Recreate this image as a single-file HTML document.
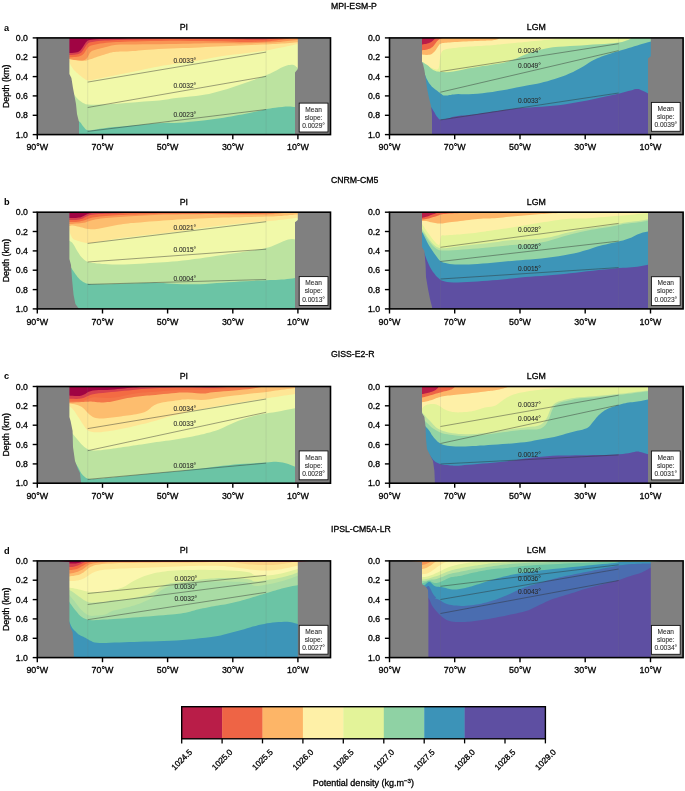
<!DOCTYPE html>
<html lang="en"><head><meta charset="utf-8"><title>Potential density sections</title>
<style>
html,body{margin:0;padding:0;background:#fff;}
body{width:685px;height:791px;overflow:hidden;}
svg{display:block;font-family:"Liberation Sans", sans-serif;}
text{fill:#000;}
.b{stroke:#000;stroke-width:0.3px;}
.g{fill:#2b2b2b;stroke:#2b2b2b;stroke-width:0.08px;}
</style></head><body>
<svg width="685" height="791" viewBox="0 0 685 791">
<rect width="685" height="791" fill="#fff"/>
<text x="331.0" y="8.6" font-size="8.7" class="b">MPI-ESM-P</text>
<text x="4" y="30.7" font-size="9.2" font-weight="bold">a</text>
<g transform="translate(37.3,37.9)">
<clipPath id="ca1"><rect x="0" y="0" width="293.2" height="96.7"/></clipPath>
<g clip-path="url(#ca1)">
<rect x="0" y="0" width="293.2" height="96.7" fill="#6bc4a5"/>
<polygon fill="#bce3a0" points="-3,-2 -3,80.1 31.7,80.1 32.3,80.2 33.6,80.5 35.5,81 38,81.6 40.1,82.5 42,83.7 43.6,85.2 44.8,87 46,88.6 47.1,89.9 48,91 49,91.9 50.5,92.4 52.6,92.5 55.3,92.2 58.7,91.5 62.6,90.9 67,90.3 72,89.7 77.5,89.1 84.2,88.5 92.2,87.8 101.5,87 112,86 120.4,85.4 126.8,85 131.1,84.9 133.3,85.1 136.6,85.1 141,84.9 146.4,84.5 152.9,83.9 158.7,83.4 163.7,82.9 168.1,82.4 171.8,81.9 175.4,81.4 179.1,80.9 182.8,80.4 186.4,79.8 190.1,79.2 193.8,78.6 197.4,77.9 201.1,77.2 204.8,76.5 208.4,75.8 212,75.1 215.6,74.3 218.8,73.7 221.5,73.1 223.8,72.5 225.6,72.1 227.5,71.6 229.3,71.2 231.1,70.9 233,70.5 235.3,70.2 238,69.8 241.2,69.4 244.9,69 248.1,68.7 250.8,68.6 253,68.7 254.8,68.8 256.4,69 257.8,69 259,69.1 260.1,69.1 260.8,69.1 261.4,69.1 261.6,69.1 296.2,69.1 296.2,-2"/>
<polygon fill="#f1f9a9" points="-3,-2 -3,47.3 31.7,47.3 31.8,47.5 31.9,47.8 32.1,48.2 32.3,48.8 32.9,49.9 33.9,51.6 35.2,53.8 36.8,56.5 38.4,58.8 40,60.7 41.5,62.2 42.9,63.2 44.3,64.2 45.7,65 47.1,65.7 48.4,66.3 50.7,66.6 54,66.8 58.3,66.9 63.7,66.7 69.1,66.5 74.5,66.2 80,65.8 85.5,65.4 91.7,64.9 98.7,64.3 106.5,63.7 115,63.1 121.9,62.5 127.3,61.9 131.1,61.4 133.3,60.9 136.6,60.4 141,59.8 146.4,59.3 152.9,58.7 158.7,58.1 163.7,57.4 168.1,56.7 171.8,56 175.4,55.2 179.1,54.2 182.8,53.2 186.4,52.2 190.1,51 193.8,49.9 197.4,48.6 201.1,47.4 204.8,46.1 208.4,44.9 212,43.6 215.6,42.3 218.8,41.2 221.5,40.2 223.8,39.3 225.6,38.6 227.5,37.8 229.3,37.1 231.1,36.3 233,35.6 234.9,34.7 236.9,33.7 239,32.6 241.2,31.3 243.2,30.2 245,29.3 246.7,28.6 248.1,28 249.6,27.5 251.1,27.2 252.5,27 254,26.9 255.3,26.9 256.4,27.2 257.5,27.7 258.4,28.4 259.2,29 259.9,29.6 260.5,30 260.9,30.4 261.3,30.7 261.5,30.9 261.6,31 296.2,31 296.2,-2"/>
<polygon fill="#fee695" points="-3,-2 -3,23.7 31.7,23.7 31.9,24.1 32.3,24.9 32.8,26.1 33.6,27.7 34.5,29.2 35.5,30.6 36.6,32 37.8,33.2 39.1,34.5 40.5,35.7 42,37 43.5,38.2 44.9,39.4 46.3,40.4 47.6,41.2 48.8,42 50.3,42.4 52.1,42.5 54.1,42.4 56.3,41.9 59.3,41.2 62.9,40.5 67.2,39.6 72.2,38.6 77.2,37.6 82.2,36.6 87.2,35.6 92.2,34.6 97.2,33.6 102.2,32.5 107.2,31.4 112.2,30.3 117,29.4 121.6,28.5 126.1,27.7 130.3,27 134.9,26.4 139.9,25.6 145.3,24.9 151,24.2 156.8,23.3 162.5,22.3 168.2,21.3 173.9,20.2 179.7,19.1 185.4,18.2 191.1,17.4 196.9,16.7 202.6,16 208.3,15.3 214.1,14.6 219.8,13.8 224.8,13.1 229.1,12.5 232.7,11.8 235.5,11.3 238.4,10.7 241.3,10.1 244.1,9.6 247,9 249.8,8.4 252.5,7.8 255.2,7.3 257.7,6.7 259.7,6.3 261,6 261.6,5.8 296.2,5.8 296.2,-2"/>
<polygon fill="#fdbd6e" points="-3,-2 -3,21.1 31.7,21.1 32.2,21.2 33.2,21.4 34.7,21.6 36.7,22 38.7,22.3 40.7,22.5 42.7,22.7 44.7,22.9 46.5,22.9 48,22.8 49.4,22.6 50.5,22.2 51.6,21.8 52.9,21.4 54.2,21 55.6,20.5 57.2,19.9 58.9,19.3 60.7,18.7 62.7,18.1 64.7,17.4 66.7,16.8 68.7,16.1 70.7,15.5 72.6,14.9 74.3,14.5 76,14.2 77.5,14 79.1,13.9 80.8,13.8 82.7,13.7 84.7,13.7 87,13.7 89.5,13.6 92.2,13.4 95.2,13.2 98.2,13 101.2,12.7 104.2,12.4 107.2,12.2 111,11.8 115.6,11.5 121.1,11.2 127.3,10.9 133.4,10.6 139.4,10.4 145.3,10.1 151,10 156.8,9.8 162.5,9.5 168.2,9.2 173.9,8.9 179.7,8.6 185.4,8.3 191.1,8 196.9,7.8 202.6,7.5 208.3,7.3 214.1,7.1 219.8,6.9 224.8,6.7 229.1,6.5 232.7,6.3 235.5,6.2 238.4,6.1 241.3,5.9 244.1,5.7 247,5.5 249.8,5.3 252.5,5 255.2,4.8 257.7,4.6 259.7,4.4 261,4.3 261.6,4.2 296.2,4.2 296.2,-2"/>
<polygon fill="#f99554" points="-3,-2 -3,21.1 31.7,21.1 32.2,21.2 33.2,21.4 34.7,21.6 36.7,22 38.7,22.2 40.7,22.4 42.7,22.5 44.7,22.5 46.4,22.3 47.8,21.9 48.8,21.2 49.6,20.4 50.3,19.4 50.9,18.4 51.5,17.2 52,16 52.6,14.9 53.5,14 54.6,13.2 55.8,12.6 57.3,12 58.9,11.5 60.7,11 62.7,10.5 64.7,10 66.7,9.5 68.7,9 70.7,8.5 72.6,8 74.3,7.6 76,7.3 77.5,7.1 79.8,6.9 83.1,6.7 87.2,6.6 92.2,6.6 98.3,6.5 105.4,6.4 113.6,6.4 122.8,6.3 131.2,6.2 138.7,6 145.3,5.9 151,5.8 156.8,5.7 162.5,5.5 168.2,5.4 173.9,5.3 179.7,5.3 185.4,5.3 191.1,5.3 196.9,5.4 202.6,5.5 208.3,5.4 214.1,5.3 219.8,5 224.9,4.8 229.5,4.7 233.5,4.5 237,4.4 240.1,4.2 243,4 245.6,3.7 247.9,3.4 250.2,3.1 252.7,2.8 255.2,2.5 257.7,2.3 259.7,2.1 261,2 261.6,1.9 296.2,1.9 296.2,-2"/>
<polygon fill="#f36b43" points="-3,-2 -3,19.5 31.7,19.5 32.2,19.5 33.2,19.4 34.7,19.4 36.7,19.2 38.5,19.1 40.1,18.9 41.6,18.6 42.8,18.2 44,17.7 45,17.1 45.8,16.4 46.6,15.5 47.3,14.5 48.1,13.4 48.8,12.2 49.6,11 50.4,9.9 51.3,9 52.2,8.4 53.2,7.9 54.8,7.3 56.9,6.8 59.6,6.3 62.8,5.7 66,5.3 69.1,4.9 72.2,4.6 75.2,4.4 78.7,4.2 82.7,4 87.2,3.9 92.2,3.7 98.3,3.6 105.4,3.4 113.6,3.2 122.8,3 132.6,2.9 143,2.9 153.9,3 165.3,3.1 175.4,3.3 184,3.4 191.1,3.7 196.9,3.9 202.6,4 208.3,4.1 214.1,4.1 219.8,3.9 224.8,3.8 229.1,3.5 232.7,3.3 235.5,2.9 238.4,2.5 241.3,2.2 244.1,1.8 247,1.4 249.4,1 251.4,0.6 253,0.3 254.2,-0.1 255,-0.3 255.6,-0.5 255.9,-0.6 296.2,-0.6 296.2,-2"/>
<polygon fill="#d6404e" points="-3,-2 -3,17.1 31.7,17.1 32.2,17.1 33.2,17 34.7,17 36.7,16.9 38.5,16.7 40,16.4 41.2,16.1 42.2,15.7 43.1,15.2 44,14.5 44.8,13.6 45.6,12.6 46.3,11.5 47.1,10.4 47.8,9.2 48.6,8 49.3,6.9 50.1,6 50.8,5.4 51.6,4.9 53,4.4 55,4 57.6,3.6 60.8,3.2 64.1,2.9 67.5,2.7 71,2.5 74.5,2.3 80.6,2.1 89.5,1.9 101.1,1.7 115.3,1.4 129.6,1.2 143.9,1 158.2,1 172.5,1 184.4,1 193.9,1.1 200.9,1.3 205.5,1.4 209.9,1.6 214.2,1.6 218.4,1.6 222.4,1.6 225.9,1.5 229.1,1.4 231.8,1.2 234.1,1 236.3,0.8 238.3,0.6 240.1,0.3 241.8,-0.1 243.1,-0.3 244,-0.5 244.4,-0.6 296.2,-0.6 296.2,-2"/>
<polygon fill="#a00443" points="-3,-2 -3,15.1 31.7,15.1 32.2,15.1 33.2,15 34.7,15 36.7,14.9 38.4,14.7 39.8,14.4 40.8,14.1 41.6,13.7 42.3,13.2 43.1,12.5 43.8,11.6 44.6,10.6 45.3,9.5 46.1,8.4 46.8,7.2 47.6,6 48.3,4.9 49,4 49.7,3.4 50.3,2.9 51.3,2.4 52.7,2.1 54.5,1.8 56.5,1.6 59.4,1.4 62.9,1.2 67.2,1.1 72.2,0.9 77.2,0.7 82.2,0.5 87.2,0.3 92.2,-0 96,-0.3 98.5,-0.4 99.7,-0.5 296.2,-0.5 296.2,-2"/>
<polygon fill="#808080" points="-2,-2 32.1,0.1 32.1,36.1 34.1,40.1 35.7,50.1 38.7,66.1 39.7,76.1 41.7,84.1 41.7,98.1 -2,98.7"/>
<polygon fill="#808080" points="295.2,-2 260.5,0.1 260.5,31 257.7,34.5 257.7,98.7 295.2,98.7"/>
<line x1="50.4" y1="0" x2="50.4" y2="96.7" stroke="#777" stroke-width="0.45" stroke-dasharray="0.6,0.4" opacity="0.5"/>
<line x1="228.8" y1="0" x2="228.8" y2="96.7" stroke="#777" stroke-width="0.45" stroke-dasharray="0.6,0.4" opacity="0.5"/>
<line x1="50.4" y1="44.2" x2="228.8" y2="14.2" stroke="#2e2e2e" stroke-width="0.45"/>
<line x1="50.4" y1="69.6" x2="228.8" y2="38.5" stroke="#2e2e2e" stroke-width="0.45"/>
<line x1="50.4" y1="93.5" x2="228.8" y2="71.6" stroke="#2e2e2e" stroke-width="0.45"/>
</g>
<text x="147.5" y="25.3" font-size="6.6" text-anchor="middle" class="g">0.0033°</text>
<text x="147.5" y="50.4" font-size="6.6" text-anchor="middle" class="g">0.0032°</text>
<text x="147.5" y="78.9" font-size="6.6" text-anchor="middle" class="g">0.0023°</text>
<rect x="261.9" y="65.2" width="28.8" height="28.9" fill="#fff" stroke="#111" stroke-width="0.9"/>
<text font-size="6.6" text-anchor="middle" class="g"><tspan x="276.3" y="73.8">Mean</tspan><tspan x="276.3" y="81.8">slope:</tspan><tspan x="276.3" y="90.2">0.0029°</tspan></text>
<rect x="0" y="0" width="293.2" height="96.7" fill="none" stroke="#000" stroke-width="1.6"/>
<line x1="-4.6" y1="0" x2="0" y2="0" stroke="#000" stroke-width="1.4"/>
<text x="-9.4" y="3.2" font-size="8.7" text-anchor="end" class="b">0.0</text>
<line x1="-4.6" y1="19.3" x2="0" y2="19.3" stroke="#000" stroke-width="1.4"/>
<text x="-9.4" y="22.5" font-size="8.7" text-anchor="end" class="b">0.2</text>
<line x1="-4.6" y1="38.7" x2="0" y2="38.7" stroke="#000" stroke-width="1.4"/>
<text x="-9.4" y="41.9" font-size="8.7" text-anchor="end" class="b">0.4</text>
<line x1="-4.6" y1="58" x2="0" y2="58" stroke="#000" stroke-width="1.4"/>
<text x="-9.4" y="61.2" font-size="8.7" text-anchor="end" class="b">0.6</text>
<line x1="-4.6" y1="77.4" x2="0" y2="77.4" stroke="#000" stroke-width="1.4"/>
<text x="-9.4" y="80.6" font-size="8.7" text-anchor="end" class="b">0.8</text>
<line x1="-4.6" y1="96.7" x2="0" y2="96.7" stroke="#000" stroke-width="1.4"/>
<text x="-9.4" y="99.9" font-size="8.7" text-anchor="end" class="b">1.0</text>
<line x1="0" y1="96.7" x2="0" y2="101.3" stroke="#000" stroke-width="1.4"/>
<text x="0" y="112.6" font-size="8.9" text-anchor="middle" class="b">90°W</text>
<line x1="65.2" y1="96.7" x2="65.2" y2="101.3" stroke="#000" stroke-width="1.4"/>
<text x="65.2" y="112.6" font-size="8.9" text-anchor="middle" class="b">70°W</text>
<line x1="130.3" y1="96.7" x2="130.3" y2="101.3" stroke="#000" stroke-width="1.4"/>
<text x="130.3" y="112.6" font-size="8.9" text-anchor="middle" class="b">50°W</text>
<line x1="195.5" y1="96.7" x2="195.5" y2="101.3" stroke="#000" stroke-width="1.4"/>
<text x="195.5" y="112.6" font-size="8.9" text-anchor="middle" class="b">30°W</text>
<line x1="260.6" y1="96.7" x2="260.6" y2="101.3" stroke="#000" stroke-width="1.4"/>
<text x="260.6" y="112.6" font-size="8.9" text-anchor="middle" class="b">10°W</text>
<text x="146.6" y="-7.5" font-size="8.8" text-anchor="middle" class="b">PI</text>
<text transform="translate(-28.3,48.35) rotate(-90)" font-size="8.8" text-anchor="middle" class="b">Depth (km)</text>
</g>
<g transform="translate(389.5,37.9)">
<clipPath id="ca2"><rect x="0" y="0" width="293.6" height="96.7"/></clipPath>
<g clip-path="url(#ca2)">
<rect x="0" y="0" width="293.6" height="96.7" fill="#5e4fa2"/>
<polygon fill="#3d95b8" points="-3,-2 -3,66.1 39.5,66.1 39.8,66.5 40.2,67.2 41,68.3 42,69.8 43,71.4 44,73 45,74.7 46,76.5 46.9,78 47.8,79.2 48.6,80.2 49.4,81 50.3,81.5 51.4,81.7 52.8,81.7 54.2,81.5 56,81.1 58,80.6 60.2,80 62.8,79.2 65.5,78.6 68.5,78.1 71.8,77.7 75.2,77.5 79.1,77.1 83.4,76.6 88,76 93,75.2 98,74.5 103,73.7 108,73 113,72.2 117.8,71.6 122.4,71 126.9,70.5 131.1,70.2 135.7,69.8 140.7,69.5 146.1,69.2 151.8,68.9 157.6,68.4 163.3,67.9 169,67.3 174.7,66.5 180.5,65.7 186.2,64.7 191.9,63.7 197.7,62.6 203.4,61.4 209.1,60.2 214.9,58.9 220.6,57.7 225.6,56.6 229.9,55.6 233.5,54.7 236.3,53.9 238.9,53.2 241.2,52.6 243.2,52 244.9,51.4 246.5,51.1 247.9,51 249.2,51.2 250.4,51.7 251.9,52.3 253.7,53.2 256,54.2 258.5,55.5 260.5,56.5 261.8,57.1 262.4,57.4 296.6,57.4 296.6,-2"/>
<polygon fill="#94d4a4" points="-3,-2 -3,30.1 32.5,30.1 32.6,30.4 32.9,30.9 33.2,31.6 33.8,32.6 34.3,33.9 34.9,35.4 35.6,37.1 36.4,39.1 37.2,41 38.1,42.7 39,44.4 40,45.9 41.1,47.2 42.2,48.5 43.4,49.6 44.6,50.6 45.8,51.5 46.9,52.4 48,53.2 49,54 50,54.7 51,55.5 52,56.2 53,57 54.1,57.5 55.4,57.7 56.8,57.7 58.2,57.5 59.8,57.2 61.2,57 62.8,56.7 64.2,56.5 66.2,56.3 68.8,56.2 71.8,56.3 75.2,56.4 79.1,56.3 83.4,56.1 88,55.8 93,55.3 98,54.7 103,54 108,53.2 113,52.4 117.8,51.5 122.4,50.6 126.9,49.7 131.1,48.8 135,48 138.6,47.3 141.8,46.8 144.7,46.4 147.7,45.8 151,45.1 154.4,44.2 158,43.3 161.6,42.2 165.2,41.1 168.9,39.9 172.6,38.7 176.2,37.3 179.9,35.7 183.6,34 187.2,32.2 190.6,30.4 193.7,28.6 196.5,26.9 199,25.1 201.4,23.6 203.7,22.3 205.8,21.3 207.8,20.4 209.9,19.6 212.1,18.7 214.3,17.9 216.6,17.1 218.9,16.3 221.2,15.6 223.4,14.9 225.7,14.2 228.2,13.5 230.8,12.7 233.5,11.9 236.3,11 239.2,10.2 242.1,9.3 244.9,8.4 247.8,7.6 250.6,6.7 253.3,5.9 256,5.2 258.5,4.4 260.5,3.9 261.8,3.5 262.4,3.3 296.6,3.3 296.6,-2"/>
<polygon fill="#e3f399" points="-3,-2 -3,23.1 32.5,23.1 32.8,23.2 33.2,23.3 34,23.5 35,23.7 36,24.3 37,25.2 38,26.4 39,27.9 40.1,29.2 41.2,30.3 42.4,31.2 43.6,32 44.9,32.6 46.1,33.1 47.2,33.5 48.4,33.7 49.9,33.9 51.8,34.1 54,34.2 56.6,34.4 59.8,34.2 63.6,33.7 68,32.9 73,31.8 78,30.7 83,29.8 88,29 93,28.2 98,27.5 103,26.7 108,25.8 113,25 117.8,23.8 122.4,22.4 126.9,20.7 131.1,18.6 135.7,16.7 140.7,14.9 146.1,13.2 151.8,11.6 157.6,10.4 163.3,9.4 169,8.8 174.7,8.6 180.5,8.2 186.2,7.9 191.9,7.5 197.7,7.1 203.4,6.7 209.1,6.4 214.9,6 220.6,5.7 225.5,5.2 229.5,4.7 232.6,4.1 234.9,3.4 236.9,2.7 238.6,2 240.1,1.3 241.2,0.5 242.1,-0 242.6,-0.4 242.9,-0.6 296.6,-0.6 296.6,-2"/>
<polygon fill="#fef0a7" points="-3,-2 -3,23.6 31.9,23.6 32.3,23.8 32.9,24.1 33.9,24.7 35.2,25.5 36.5,26.3 37.7,27.1 38.9,27.9 40.1,28.8 41.3,29.5 42.4,30.1 43.6,30.6 44.8,31.1 45.8,31.4 46.8,31.5 47.6,31.5 48.4,31.4 49,30.7 49.4,29.4 49.8,27.6 50,25.3 50.2,23 50.5,20.9 50.8,18.7 51.2,16.7 51.7,15 52.4,13.7 53.2,12.8 54.1,12.2 55.1,11.8 56.2,11.4 57.4,11.1 58.7,10.9 60,10.7 61.3,10.5 62.7,10.3 64.2,10.1 65.7,10 67.2,9.8 68.7,9.6 70.2,9.4 72,9.3 74.2,9.1 76.8,8.9 79.6,8.7 82.5,8.5 85.4,8.3 88.3,8.1 91.2,8 94.1,7.8 96.9,7.7 99.6,7.5 102.3,7.3 104.7,7.1 106.8,6.9 108.5,6.7 110,6.6 111.8,6.4 114,6.2 116.6,5.9 119.5,5.7 122.2,5.4 124.8,5.1 127.1,4.9 129.3,4.7 131.8,4.5 134.7,4.2 138,3.8 141.7,3.4 145.2,3.1 148.5,2.8 151.6,2.5 154.5,2.2 157.2,2 159.6,1.8 161.8,1.6 163.7,1.4 165.7,1.2 167.9,1 170.2,0.8 172.7,0.6 174.9,0.4 176.9,0.2 178.6,-0 180.1,-0.3 181.2,-0.5 181.9,-0.6 182.3,-0.6 296.6,-0.6 296.6,-2"/>
<polygon fill="#fdb567" points="-3,-2 -3,16.5 31.9,16.5 32.3,16.6 32.9,16.7 33.9,16.8 35.2,16.9 36.5,17 37.7,17 38.9,16.9 40.1,16.8 41.2,16.5 42.2,16 43.2,15.4 44,14.7 44.9,13.9 45.7,12.9 46.5,11.9 47.2,10.7 47.9,9.6 48.5,8.6 49.2,7.7 49.7,6.9 50.4,6.2 51.2,5.8 52.2,5.4 53.2,5.2 54.3,5.1 55.5,4.9 56.9,4.8 58.4,4.7 60.2,4.6 62.4,4.4 64.9,4.2 67.8,4.1 70.8,3.9 73.7,3.7 76.6,3.6 79.5,3.4 82.5,3.3 85.4,3.2 88.3,3.1 91.2,2.9 93.7,2.8 95.8,2.8 97.4,2.7 98.7,2.7 99.9,2.6 101.1,2.6 102.3,2.5 103.4,2.4 104.5,2.2 105.5,2 106.5,1.8 107.4,1.6 108.2,1.3 108.9,0.9 109.6,0.5 110.1,0.1 110.6,-0.3 110.9,-0.5 111,-0.6 296.6,-0.6 296.6,-2"/>
<polygon fill="#ee6445" points="-3,-2 -3,12.5 31.9,12.5 32.3,12.4 32.9,12.3 33.9,12.2 35.2,12.1 36.5,11.9 37.7,11.6 38.9,11.2 40.1,10.8 41.2,10.3 42.1,9.7 43,9 43.7,8.3 44.4,7.5 45.1,6.6 45.9,5.7 46.6,4.6 47.3,3.7 48.1,2.9 48.8,2.2 49.5,1.6 50.3,1.2 51,0.8 51.7,0.5 52.4,0.3 53.1,0.1 53.8,-0.2 54.4,-0.4 55,-0.6 55.4,-0.8 55.7,-0.9 55.9,-1 296.6,-1 296.6,-2"/>
<polygon fill="#b91d48" points="-3,-2 -3,6.6 31.9,6.6 32.3,6.6 32.9,6.5 33.9,6.4 35.2,6.2 36.5,6 37.7,5.7 38.9,5.4 40.1,4.9 41.2,4.4 42.1,3.8 43,3.2 43.7,2.5 44.3,1.8 44.9,1.3 45.4,0.8 45.9,0.5 46.3,0.2 46.6,-0.1 47,-0.4 47.3,-0.6 47.5,-0.8 47.6,-0.9 47.7,-1 296.6,-1 296.6,-2"/>
<polygon fill="#808080" points="-2,-2 32.5,0.1 32.5,24.1 33.5,26.1 34.9,32.1 36.1,40.1 37.5,50.1 39.5,60.1 41.5,68.1 42.5,76.1 42.5,98.1 -2,98.7"/>
<polygon fill="#808080" points="295.2,-2 261.3,0.1 261.3,18.4 258.5,20.7 258.5,98.7 295.2,98.7"/>
<line x1="51" y1="0" x2="51" y2="96.7" stroke="#777" stroke-width="0.45" stroke-dasharray="0.6,0.4" opacity="0.5"/>
<line x1="229.1" y1="0" x2="229.1" y2="96.7" stroke="#777" stroke-width="0.45" stroke-dasharray="0.6,0.4" opacity="0.5"/>
<line x1="51" y1="33.6" x2="229.1" y2="5.8" stroke="#2e2e2e" stroke-width="0.45"/>
<line x1="51" y1="54.3" x2="229.1" y2="12.7" stroke="#2e2e2e" stroke-width="0.45"/>
<line x1="51" y1="82" x2="229.1" y2="55.1" stroke="#2e2e2e" stroke-width="0.45"/>
</g>
<text x="140" y="15.3" font-size="6.6" text-anchor="middle" class="g">0.0034°</text>
<text x="140" y="30.3" font-size="6.6" text-anchor="middle" class="g">0.0049°</text>
<text x="140" y="65.3" font-size="6.6" text-anchor="middle" class="g">0.0033°</text>
<rect x="261.9" y="64.5" width="28.8" height="28.9" fill="#fff" stroke="#111" stroke-width="0.9"/>
<text font-size="6.6" text-anchor="middle" class="g"><tspan x="276.3" y="73.1">Mean</tspan><tspan x="276.3" y="81.1">slope:</tspan><tspan x="276.3" y="89.5">0.0039°</tspan></text>
<rect x="0" y="0" width="293.6" height="96.7" fill="none" stroke="#000" stroke-width="1.6"/>
<line x1="-4.6" y1="0" x2="0" y2="0" stroke="#000" stroke-width="1.4"/>
<text x="-9.4" y="3.2" font-size="8.7" text-anchor="end" class="b">0.0</text>
<line x1="-4.6" y1="19.3" x2="0" y2="19.3" stroke="#000" stroke-width="1.4"/>
<text x="-9.4" y="22.5" font-size="8.7" text-anchor="end" class="b">0.2</text>
<line x1="-4.6" y1="38.7" x2="0" y2="38.7" stroke="#000" stroke-width="1.4"/>
<text x="-9.4" y="41.9" font-size="8.7" text-anchor="end" class="b">0.4</text>
<line x1="-4.6" y1="58" x2="0" y2="58" stroke="#000" stroke-width="1.4"/>
<text x="-9.4" y="61.2" font-size="8.7" text-anchor="end" class="b">0.6</text>
<line x1="-4.6" y1="77.4" x2="0" y2="77.4" stroke="#000" stroke-width="1.4"/>
<text x="-9.4" y="80.6" font-size="8.7" text-anchor="end" class="b">0.8</text>
<line x1="-4.6" y1="96.7" x2="0" y2="96.7" stroke="#000" stroke-width="1.4"/>
<text x="-9.4" y="99.9" font-size="8.7" text-anchor="end" class="b">1.0</text>
<line x1="0" y1="96.7" x2="0" y2="101.3" stroke="#000" stroke-width="1.4"/>
<text x="0" y="112.6" font-size="8.9" text-anchor="middle" class="b">90°W</text>
<line x1="65.2" y1="96.7" x2="65.2" y2="101.3" stroke="#000" stroke-width="1.4"/>
<text x="65.2" y="112.6" font-size="8.9" text-anchor="middle" class="b">70°W</text>
<line x1="130.5" y1="96.7" x2="130.5" y2="101.3" stroke="#000" stroke-width="1.4"/>
<text x="130.5" y="112.6" font-size="8.9" text-anchor="middle" class="b">50°W</text>
<line x1="195.7" y1="96.7" x2="195.7" y2="101.3" stroke="#000" stroke-width="1.4"/>
<text x="195.7" y="112.6" font-size="8.9" text-anchor="middle" class="b">30°W</text>
<line x1="261" y1="96.7" x2="261" y2="101.3" stroke="#000" stroke-width="1.4"/>
<text x="261" y="112.6" font-size="8.9" text-anchor="middle" class="b">10°W</text>
<text x="146.8" y="-7.5" font-size="8.8" text-anchor="middle" class="b">LGM</text>
</g>
<text x="331.0" y="182.9" font-size="8.7" class="b">CNRM-CM5</text>
<text x="4" y="205" font-size="9.2" font-weight="bold">b</text>
<g transform="translate(37.3,212.2)">
<clipPath id="cb1"><rect x="0" y="0" width="293.2" height="96.7"/></clipPath>
<g clip-path="url(#cb1)">
<rect x="0" y="0" width="293.2" height="96.7" fill="#6bc4a5"/>
<polygon fill="#bce3a0" points="-3,-2 -3,52.8 31.7,52.8 31.9,53.1 32.3,53.6 32.8,54.3 33.6,55.3 34.4,56.4 35.3,57.7 36.2,59.1 37.2,60.6 38.2,62 39.2,63.4 40.2,64.7 41.2,65.9 42.3,67.1 43.4,68.1 44.6,68.9 45.8,69.7 47,70.3 48,70.8 48.8,71.2 49.6,71.4 50.7,71.6 52.2,71.8 54.1,72 56.3,72 59.3,72.1 62.9,72.1 67.2,72 72.2,72 77.2,71.8 82.2,71.7 87.2,71.6 92.2,71.4 97.2,71.3 102.2,71.1 107.2,70.9 112.2,70.7 117,70.6 121.6,70.7 126.1,70.9 130.3,71.2 134.9,71.5 139.9,71.8 145.3,72 151,72.1 156.8,72.1 162.5,72 168.2,71.7 173.9,71.3 179.7,70.9 185.4,70.5 191.1,70.1 196.9,69.7 202.6,69.3 208.3,69 214.1,68.7 219.8,68.4 224.8,68.2 229.1,68 232.7,67.9 235.5,67.8 238.4,67.7 241.3,67.6 244.1,67.4 247,67.2 249.8,66.9 252.5,66.6 255.2,66.3 257.7,65.9 259.7,65.7 261,65.5 261.6,65.4 296.2,65.4 296.2,-2"/>
<polygon fill="#f1f9a9" points="-3,-2 -3,28.4 31.7,28.4 32,28.6 32.5,28.9 33.2,29.3 34.2,29.9 35.2,30.9 36.2,32.2 37.2,33.8 38.2,35.8 39.3,37.7 40.4,39.6 41.6,41.4 42.8,43.2 44.1,44.7 45.3,46.1 46.6,47.3 47.8,48.3 49.1,49.1 50.5,49.7 52,50.2 53.5,50.4 55.2,50.7 57.2,50.9 59.5,51.2 62,51.4 64.7,51.7 67.7,51.9 71,52 74.5,52.2 78.3,52.3 82.6,52.3 87.2,52.2 92.2,52 97.2,51.8 102.2,51.6 107.2,51.3 112.2,50.9 117,50.6 121.6,50.3 126.1,50 130.3,49.8 134.9,49.4 139.9,49 145.3,48.4 151,47.7 156.8,46.9 162.5,46.2 168.2,45.4 173.9,44.5 179.7,43.6 185.4,42.8 191.1,41.9 196.9,41.1 202.6,40.2 208.3,39.3 214.1,38.5 219.8,37.6 224.7,36.8 228.7,35.9 231.8,35 234.1,34.2 236.4,33.3 238.7,32.3 241,31.3 243.3,30.3 245.4,29.4 247.4,28.6 249.3,27.9 251,27.3 252.8,27 254.7,26.9 256.6,27 258.6,27.3 260.1,27.6 261.1,27.8 261.6,27.8 296.2,27.8 296.2,-2"/>
<polygon fill="#fee695" points="-3,-2 -3,16.8 31.7,16.8 31.8,17.1 31.9,17.7 32.2,18.6 32.5,19.8 32.8,21 33.2,22.2 33.7,23.4 34.3,24.6 34.8,25.6 35.4,26.3 35.9,26.9 36.5,27.2 37.2,27.5 38,27.8 38.9,28.1 40.1,28.5 41.2,28.8 42.2,29.1 43.4,29.5 44.5,29.8 45.5,30 46.7,30.3 47.8,30.6 48.9,30.8 50.2,30.9 51.9,30.9 53.9,30.7 56.2,30.3 59.2,29.9 62.9,29.3 67.2,28.5 72.2,27.7 77.2,26.9 82.2,26.1 87.2,25.4 92.2,24.8 97.2,24.2 102.2,23.6 107.2,23.1 112.2,22.6 117,22 121.6,21.5 126.1,21 130.3,20.5 134.9,19.9 139.9,19.3 145.3,18.5 151,17.7 156.8,16.8 162.5,16 168.2,15.3 173.9,14.5 179.7,13.8 185.4,13.2 191.1,12.5 196.9,12 202.6,11.4 208.3,10.9 214.1,10.3 219.8,9.8 224.8,9.4 229.1,9 232.7,8.7 235.5,8.5 238.4,8.2 241.3,7.9 244.1,7.6 247,7.3 249.8,6.9 252.5,6.6 255.2,6.2 257.7,5.9 259.7,5.6 261,5.5 261.6,5.4 296.2,5.4 296.2,-2"/>
<polygon fill="#fdbd6e" points="-3,-2 -3,13.8 31.7,13.8 32,13.8 32.5,13.7 33.2,13.6 34.2,13.4 35.4,13.4 36.8,13.5 38.3,13.8 40.1,14.2 41.8,14.6 43.4,15 45,15.4 46.5,15.8 47.9,16.2 49.3,16.5 50.6,16.7 51.8,16.9 53.1,17 54.5,17.1 56,17.1 57.5,17 59.2,16.8 61.2,16.5 63.5,16.1 66,15.6 68.5,15.1 71,14.6 73.5,14.1 76,13.6 78.5,13.1 81,12.6 83.5,12.2 86,11.8 88.5,11.5 91,11.2 93.5,10.9 96,10.7 99.1,10.5 102.8,10.2 107.2,9.8 112.2,9.4 117,9 121.6,8.7 126.1,8.3 130.3,8 134.9,7.7 139.9,7.4 145.3,7.1 151,6.8 156.8,6.5 162.5,6.2 168.2,6 173.9,5.7 179.7,5.5 185.4,5.4 191.1,5.2 196.9,5.1 202.6,5 208.3,4.9 214.1,4.8 219.8,4.6 224.8,4.5 229.1,4.4 232.7,4.3 235.5,4.2 238.4,4 241.3,3.9 244.1,3.7 247,3.4 249.8,3.2 252.5,2.9 255.2,2.7 257.7,2.4 259.7,2.2 261,2 261.6,1.9 296.2,1.9 296.2,-2"/>
<polygon fill="#f99554" points="-3,-2 -3,11.8 31.7,11.8 32.2,11.8 33.2,11.7 34.7,11.7 36.7,11.6 38.7,11.4 40.7,11.2 42.7,11 44.7,10.8 46.5,10.5 48,10.2 49.2,9.8 50.2,9.4 51.5,9 53,8.5 54.7,8.1 56.7,7.6 58.8,7.1 61.1,6.7 63.5,6.4 66,6.1 68.7,5.8 71.7,5.5 75,5.2 78.5,5 82.1,4.7 85.8,4.5 89.7,4.2 93.7,4 98,3.7 102.5,3.5 107.2,3.2 112.2,3 117,2.8 121.6,2.6 126.1,2.4 130.3,2.3 134.9,2.2 139.9,2.2 145.3,2.1 151,2 156.8,2 162.5,2 168.2,1.9 173.9,1.9 179.7,2 185.4,2 191.1,2.1 196.9,2.2 202.6,2.3 208.3,2.4 214.1,2.4 219.8,2.4 224.8,2.4 229.1,2.3 232.7,2.1 235.5,2 238.4,1.7 241.3,1.5 244.1,1.1 247,0.7 249.1,0.4 250.6,0.2 251.3,0.1 296.2,0.1 296.2,-2"/>
<polygon fill="#f36b43" points="-3,-2 -3,9.8 31.7,9.8 32.2,9.8 33.2,9.8 34.7,9.8 36.7,9.8 38.6,9.7 40.5,9.5 42.3,9.3 44.1,8.9 45.6,8.5 47,8.1 48.2,7.7 49.2,7.2 50.4,6.7 51.8,6.2 53.3,5.8 55.1,5.4 57.1,5 59.5,4.7 62.2,4.4 65.2,4.1 68.3,3.8 71.6,3.5 75,3.3 78.5,3.1 82.1,2.9 85.8,2.7 89.7,2.6 93.7,2.4 98,2.3 102.5,2.1 107.2,2 112.2,1.8 117,1.7 121.6,1.6 126.1,1.5 130.3,1.5 137.8,1.5 148.5,1.5 162.5,1.5 179.7,1.6 194.3,1.7 206.3,1.7 215.8,1.6 222.6,1.6 228.4,1.4 233,1.2 236.4,1 238.7,0.6 240.4,0.4 241.6,0.2 242.1,0.1 296.2,0.1 296.2,-2"/>
<polygon fill="#d6404e" points="-3,-2 -3,7.8 31.7,7.8 32.2,7.8 33.2,7.8 34.7,7.8 36.7,7.8 38.6,7.7 40.3,7.5 42,7.3 43.5,6.9 44.8,6.5 46.1,6 47.2,5.4 48.2,4.8 49.3,4.2 50.4,3.7 51.6,3.3 52.8,2.9 54.5,2.6 56.5,2.3 58.8,2.1 61.6,1.9 64.5,1.7 67.6,1.6 71,1.5 74.5,1.4 78.3,1.2 82.6,1 87.2,0.8 92.2,0.6 96,0.4 98.5,0.3 99.7,0.2 296.2,0.2 296.2,-2"/>
<polygon fill="#a00443" points="-3,-2 -3,5.8 31.7,5.8 32.2,5.8 33.2,5.8 34.7,5.8 36.7,5.8 38.5,5.7 40.1,5.6 41.6,5.4 42.8,5.2 44,4.8 45.1,4.4 46.2,3.9 47.2,3.3 48.1,2.8 49,2.3 49.8,2 50.6,1.7 51.6,1.4 53,1.1 54.7,0.8 56.7,0.6 58.2,0.4 59.2,0.3 59.7,0.2 296.2,0.2 296.2,-2"/>
<polygon fill="#808080" points="-2,-2 32.1,0.8 32.1,46.8 33.7,52.8 34.9,68.8 36.3,82.8 38.1,91.8 40.7,95.2 42.7,98.8 -2,98.7"/>
<polygon fill="#808080" points="295.2,-2 260.5,0.8 260.5,7.7 257.7,10 257.7,99.4 295.2,98.7"/>
<line x1="50.4" y1="0" x2="50.4" y2="96.7" stroke="#777" stroke-width="0.45" stroke-dasharray="0.6,0.4" opacity="0.5"/>
<line x1="228.8" y1="0" x2="228.8" y2="96.7" stroke="#777" stroke-width="0.45" stroke-dasharray="0.6,0.4" opacity="0.5"/>
<line x1="50.4" y1="31.2" x2="228.8" y2="9.5" stroke="#2e2e2e" stroke-width="0.45"/>
<line x1="50.4" y1="49.8" x2="228.8" y2="37" stroke="#2e2e2e" stroke-width="0.45"/>
<line x1="50.4" y1="72.2" x2="228.8" y2="67.3" stroke="#2e2e2e" stroke-width="0.45"/>
</g>
<text x="147.5" y="18" font-size="6.6" text-anchor="middle" class="g">0.0021°</text>
<text x="147.5" y="40.2" font-size="6.6" text-anchor="middle" class="g">0.0015°</text>
<text x="147.5" y="68.6" font-size="6.6" text-anchor="middle" class="g">0.0004°</text>
<rect x="261.9" y="64.4" width="28.8" height="28.9" fill="#fff" stroke="#111" stroke-width="0.9"/>
<text font-size="6.6" text-anchor="middle" class="g"><tspan x="276.3" y="73">Mean</tspan><tspan x="276.3" y="81">slope:</tspan><tspan x="276.3" y="89.4">0.0013°</tspan></text>
<rect x="0" y="0" width="293.2" height="96.7" fill="none" stroke="#000" stroke-width="1.6"/>
<line x1="-4.6" y1="0" x2="0" y2="0" stroke="#000" stroke-width="1.4"/>
<text x="-9.4" y="3.2" font-size="8.7" text-anchor="end" class="b">0.0</text>
<line x1="-4.6" y1="19.3" x2="0" y2="19.3" stroke="#000" stroke-width="1.4"/>
<text x="-9.4" y="22.5" font-size="8.7" text-anchor="end" class="b">0.2</text>
<line x1="-4.6" y1="38.7" x2="0" y2="38.7" stroke="#000" stroke-width="1.4"/>
<text x="-9.4" y="41.9" font-size="8.7" text-anchor="end" class="b">0.4</text>
<line x1="-4.6" y1="58" x2="0" y2="58" stroke="#000" stroke-width="1.4"/>
<text x="-9.4" y="61.2" font-size="8.7" text-anchor="end" class="b">0.6</text>
<line x1="-4.6" y1="77.4" x2="0" y2="77.4" stroke="#000" stroke-width="1.4"/>
<text x="-9.4" y="80.6" font-size="8.7" text-anchor="end" class="b">0.8</text>
<line x1="-4.6" y1="96.7" x2="0" y2="96.7" stroke="#000" stroke-width="1.4"/>
<text x="-9.4" y="99.9" font-size="8.7" text-anchor="end" class="b">1.0</text>
<line x1="0" y1="96.7" x2="0" y2="101.3" stroke="#000" stroke-width="1.4"/>
<text x="0" y="112.6" font-size="8.9" text-anchor="middle" class="b">90°W</text>
<line x1="65.2" y1="96.7" x2="65.2" y2="101.3" stroke="#000" stroke-width="1.4"/>
<text x="65.2" y="112.6" font-size="8.9" text-anchor="middle" class="b">70°W</text>
<line x1="130.3" y1="96.7" x2="130.3" y2="101.3" stroke="#000" stroke-width="1.4"/>
<text x="130.3" y="112.6" font-size="8.9" text-anchor="middle" class="b">50°W</text>
<line x1="195.5" y1="96.7" x2="195.5" y2="101.3" stroke="#000" stroke-width="1.4"/>
<text x="195.5" y="112.6" font-size="8.9" text-anchor="middle" class="b">30°W</text>
<line x1="260.6" y1="96.7" x2="260.6" y2="101.3" stroke="#000" stroke-width="1.4"/>
<text x="260.6" y="112.6" font-size="8.9" text-anchor="middle" class="b">10°W</text>
<text x="146.6" y="-7.5" font-size="8.8" text-anchor="middle" class="b">PI</text>
<text transform="translate(-28.3,48.35) rotate(-90)" font-size="8.8" text-anchor="middle" class="b">Depth (km)</text>
</g>
<g transform="translate(389.5,212.2)">
<clipPath id="cb2"><rect x="0" y="0" width="293.6" height="96.7"/></clipPath>
<g clip-path="url(#cb2)">
<rect x="0" y="0" width="293.6" height="96.7" fill="#5e4fa2"/>
<polygon fill="#3d95b8" points="-3,-2 -3,35.8 32.5,35.8 32.6,35.9 32.7,36 32.9,36.2 33.1,36.4 33.6,37.4 34.2,39 35,41.3 36,44.3 37.1,47.2 38.2,49.9 39.4,52.6 40.6,55.1 41.9,57.4 43.3,59.5 44.8,61.4 46.2,63.2 47.6,64.7 48.9,65.9 50,66.9 51,67.7 52.2,68.3 53.8,68.9 55.5,69.4 57.5,69.8 60.2,70.1 63.8,70.2 68,70.2 73,70 78,69.8 83,69.6 88,69.3 93,68.9 98,68.5 103,68.1 108,67.7 113,67.2 117.8,66.7 122.4,66.2 126.9,65.8 131.1,65.3 135.7,64.9 140.7,64.5 146.1,64.1 151.8,63.7 157.6,63.3 163.3,62.8 169,62.3 174.7,61.7 180.5,61.1 186.2,60.5 191.9,59.8 197.7,59.1 203.4,58.5 209.1,57.8 214.9,57.2 220.6,56.7 225.6,56.2 229.9,55.9 233.5,55.6 236.3,55.5 239.2,55.3 242.1,55.1 244.9,54.8 247.8,54.5 250.6,54.1 253.3,53.6 256,53.1 258.5,52.5 260.5,52.1 261.8,51.8 262.4,51.7 296.6,51.7 296.6,-2"/>
<polygon fill="#94d4a4" points="-3,-2 -3,19.8 32.5,19.8 32.6,19.9 32.7,20.1 32.9,20.5 33.2,20.9 33.7,21.9 34.4,23.3 35.4,25.2 36.5,27.6 37.7,30.1 39.2,32.7 40.8,35.3 42.6,38.1 44.3,40.6 45.9,42.9 47.4,44.9 48.8,46.7 50.2,48.2 51.6,49.3 53,50.1 54.4,50.5 56.1,50.9 58,51.3 60.2,51.7 62.8,52 65.5,52.2 68.5,52.3 71.8,52.4 75.2,52.4 79.1,52.3 83.4,52.1 88,51.8 93,51.4 98,51 103,50.5 108,50.1 113,49.6 117.8,49.1 122.4,48.7 126.9,48.3 131.1,48 135.7,47.6 140.7,47.2 146.1,46.7 151.8,46.2 157.6,45.6 163.3,44.9 169,44 174.7,43.1 179.8,42.1 184.1,41.3 187.6,40.5 190.5,39.7 193.4,38.9 196.2,38.1 199.1,37.2 202,36.2 204.8,35.3 207.7,34.4 210.6,33.6 213.4,32.9 216.3,32.2 219.2,31.5 222,30.9 224.9,30.3 227.7,29.7 230.6,28.9 233.5,28.2 236.3,27.3 239.2,26.3 242.1,25.2 244.9,23.9 247.8,22.4 250.6,21.3 253.3,20.3 256,19.7 258.5,19.3 260.5,19 261.8,18.8 262.4,18.7 296.6,18.7 296.6,-2"/>
<polygon fill="#bce3a0" points="-3,-2 -3,18.8 32.5,18.8 32.6,18.9 32.7,19 32.9,19.3 33.2,19.6 33.7,20.2 34.4,21.3 35.4,22.8 36.5,24.6 37.7,26.6 39.2,28.6 40.8,30.6 42.6,32.8 44.3,34.5 45.8,35.9 47.2,36.9 48.6,37.5 50.2,38 52,38.3 54.2,38.4 56.8,38.4 59.9,38.3 63.6,38.1 68,37.8 73,37.4 78,37 83,36.6 88,36.2 93,35.8 98,35.4 103,34.9 108,34.3 113,33.7 117.8,33.2 122.4,32.9 126.9,32.6 131.1,32.5 135.2,32.3 139,32 142.7,31.7 146.1,31.2 149.4,30.7 152.7,30.1 155.8,29.5 158.8,28.7 162,27.9 165.4,26.9 168.9,25.8 172.6,24.6 176.2,23.5 179.9,22.5 183.6,21.5 187.2,20.7 190.9,19.8 194.6,19.1 198.2,18.3 201.9,17.6 205.6,17 209.2,16.4 212.8,15.8 216.4,15.2 219.6,14.7 222.3,14.2 224.6,13.8 226.4,13.5 228.3,13.1 230.1,12.7 231.9,12.3 233.8,11.9 236.1,11.6 238.8,11.2 242,10.8 245.7,10.5 248.9,10.1 251.6,9.8 253.8,9.4 255.6,9 257.2,8.6 258.6,8.4 259.8,8.2 260.9,8.1 261.6,8 262.2,7.9 262.4,7.9 296.6,7.9 296.6,-2"/>
<polygon fill="#e3f399" points="-3,-2 -3,16.8 32.5,16.8 32.6,16.9 32.7,17 32.9,17.3 33.2,17.6 33.7,18.2 34.4,19.3 35.4,20.8 36.5,22.6 37.7,24.6 39.2,26.6 40.8,28.6 42.6,30.8 44.3,32.5 45.8,33.9 47.2,34.8 48.6,35.4 49.9,35.8 51.3,36 52.8,36.1 54.2,36.1 55.9,36 57.6,35.8 59.5,35.6 61.5,35.3 64,34.9 67,34.5 70.5,34.1 74.5,33.6 78.8,33.1 83.2,32.6 88,32.1 93,31.6 98,31 103,30.4 108,29.7 113,28.9 117.8,28.3 122.4,27.9 126.9,27.6 131.1,27.5 135.2,27.3 139,27.2 142.7,27.1 146.1,26.9 149.4,26.7 152.7,26.3 155.8,25.9 158.8,25.4 162,24.8 165.4,23.9 168.9,23 172.6,21.9 176.2,20.9 179.9,20 183.6,19.2 187.2,18.4 190.9,17.7 194.6,17.1 198.2,16.4 201.9,15.9 205.6,15.3 209.2,14.8 212.8,14.2 216.4,13.7 219.6,13.2 222.3,12.8 224.6,12.4 226.4,12.1 228.3,11.7 230.1,11.4 231.9,11 233.8,10.6 236.1,10.2 238.8,9.8 242,9.5 245.7,9.1 248.9,8.8 251.6,8.4 253.8,8 255.6,7.6 257.2,7.3 258.6,7 259.8,6.8 260.9,6.7 261.6,6.6 262.2,6.6 262.4,6.5 296.6,6.5 296.6,-2"/>
<polygon fill="#fef0a7" points="-3,-2 -3,10.4 31.9,10.4 32,10.6 32.3,11 32.6,11.6 33,12.4 33.6,13.4 34.4,14.6 35.3,16.1 36.5,17.7 37.7,19.6 39.2,21.6 40.8,23.8 42.6,26.2 44.2,28.2 45.6,29.9 46.8,31.2 47.9,32.1 48.7,32.6 49.4,32.7 49.8,32.5 50.1,31.8 50.4,30.9 50.6,29.9 50.8,28.6 51,27.1 51.2,25.8 51.4,24.8 51.6,24.1 51.8,23.6 52.1,23.3 52.6,23.1 53.1,23 53.7,23.1 54.6,23.2 55.6,23.2 56.9,23.1 58.4,23 59.8,22.9 61.3,22.8 62.7,22.7 64.2,22.6 65.7,22.5 67.1,22.4 68.6,22.3 70,22.2 71.9,22.1 74.1,21.9 76.6,21.6 79.5,21.4 82.5,21 85.4,20.7 88.3,20.3 91.2,19.8 93.7,19.5 95.8,19.2 97.4,18.9 98.7,18.8 100.3,18.6 102.4,18.3 104.9,17.9 107.8,17.5 110.7,17 113.6,16.6 116.6,16.2 119.5,15.7 122.4,15.3 125.3,14.8 128.2,14.3 131.2,13.8 134.1,13.3 137,12.8 139.9,12.3 142.8,11.8 145.8,11.3 148.7,10.8 151.6,10.3 154.5,9.9 157.5,9.5 160.4,9 163.3,8.6 166.2,8.1 169,7.7 171.7,7.4 174.3,7 176.8,6.8 179.6,6.5 182.6,6.4 185.9,6.4 189.4,6.4 192.8,6.4 196.1,6.3 199.1,6.1 202,5.8 205.5,5.5 209.8,5.1 214.9,4.7 220.6,4.2 225.6,3.8 229.9,3.5 233.5,3.2 236.3,3 239.2,2.7 242.1,2.5 244.9,2.2 247.8,1.9 250.6,1.6 253.3,1.4 256,1.1 258.5,0.9 260.5,0.7 261.8,0.6 262.4,0.6 296.6,0.6 296.6,-2"/>
<polygon fill="#fdb567" points="-3,-2 -3,8.7 31.9,8.7 32.2,8.7 32.7,8.7 33.5,8.7 34.5,8.7 35.5,8.7 36.6,8.9 37.8,9.1 38.9,9.4 40.2,9.7 41.5,10 42.9,10.3 44.3,10.5 45.7,10.8 46.9,11 48.1,11.2 49.1,11.4 50.1,11.4 51.1,11.4 52.2,11.4 53.2,11.2 54.3,11 55.5,10.8 56.9,10.6 58.4,10.4 60.2,10.1 62.4,9.8 64.9,9.5 67.8,9.2 70.8,8.8 73.7,8.5 76.6,8.1 79.5,7.8 82.5,7.4 85.4,7.1 88.3,6.8 91.2,6.5 93.7,6.3 95.8,6.2 97.4,6.2 98.7,6.2 100.3,6.2 102.4,6.1 104.9,6 107.8,5.7 110.7,5.5 113.6,5.2 116.6,4.9 119.5,4.6 122.4,4.4 125.3,4.1 128.2,3.8 131.2,3.5 134.1,3.2 137,3 139.9,2.7 142.8,2.5 145.8,2.3 148.7,2.1 151.6,1.9 154.5,1.7 157.5,1.5 160.4,1.3 163.3,1.1 166.2,1 168.8,0.8 171,0.5 172.8,0.3 174.2,-0 175.3,-0.2 176.1,-0.4 176.4,-0.5 296.6,-0.5 296.6,-2"/>
<polygon fill="#ee6445" points="-3,-2 -3,7.5 31.9,7.5 32.3,7.4 32.9,7.4 33.9,7.3 35.2,7.1 36.6,6.9 37.9,6.6 39.4,6.2 40.8,5.8 42.3,5.4 43.8,4.9 45.2,4.5 46.7,4.1 47.9,3.6 48.8,3.3 49.5,3 50,2.7 50.6,2.4 51.5,2.2 52.6,2 53.9,1.9 55.5,1.7 57.5,1.6 59.8,1.4 62.4,1.3 65.1,1.1 67.9,1 70.8,0.9 73.7,0.8 76.6,0.8 79.5,0.7 82.5,0.6 85.4,0.6 88.6,0.5 92.1,0.5 95.8,0.5 99.9,0.4 104,0.4 108.3,0.4 112.7,0.4 117.1,0.4 121.2,0.3 124.9,0.2 128.2,0 131.2,-0.2 133.4,-0.3 134.8,-0.4 135.5,-0.5 296.6,-0.5 296.6,-2"/>
<polygon fill="#b91d48" points="-3,-2 -3,5.7 31.9,5.7 32.3,5.7 32.9,5.5 33.9,5.3 35.2,5 36.6,4.6 37.9,4.2 39.4,3.7 40.8,3.1 42.2,2.6 43.5,2.1 44.8,1.7 45.9,1.3 47,0.9 48,0.6 48.8,0.3 49.5,-0 50.1,-0.2 50.4,-0.4 50.6,-0.5 296.6,-0.5 296.6,-2"/>
<polygon fill="#808080" points="-2,-2 32.5,0.8 32.5,34.8 34.9,38.8 36.1,52.8 36.5,64.8 38.5,76.8 40.5,86.8 42.5,94.8 42.9,98.8 -2,98.7"/>
<polygon fill="#808080" points="295.2,-2 258.5,0.8 258.5,99.4 295.2,98.7"/>
<line x1="51" y1="0" x2="51" y2="96.7" stroke="#777" stroke-width="0.45" stroke-dasharray="0.6,0.4" opacity="0.5"/>
<line x1="229.1" y1="0" x2="229.1" y2="96.7" stroke="#777" stroke-width="0.45" stroke-dasharray="0.6,0.4" opacity="0.5"/>
<line x1="51" y1="35.1" x2="229.1" y2="11.2" stroke="#2e2e2e" stroke-width="0.45"/>
<line x1="51" y1="49.3" x2="229.1" y2="28.9" stroke="#2e2e2e" stroke-width="0.45"/>
<line x1="51" y1="66.8" x2="229.1" y2="55.4" stroke="#2e2e2e" stroke-width="0.45"/>
</g>
<text x="140" y="19.6" font-size="6.6" text-anchor="middle" class="g">0.0028°</text>
<text x="140" y="36.8" font-size="6.6" text-anchor="middle" class="g">0.0026°</text>
<text x="140" y="58.6" font-size="6.6" text-anchor="middle" class="g">0.0015°</text>
<rect x="261.9" y="64.5" width="28.8" height="28.9" fill="#fff" stroke="#111" stroke-width="0.9"/>
<text font-size="6.6" text-anchor="middle" class="g"><tspan x="276.3" y="73.1">Mean</tspan><tspan x="276.3" y="81.1">slope:</tspan><tspan x="276.3" y="89.5">0.0023°</tspan></text>
<rect x="0" y="0" width="293.6" height="96.7" fill="none" stroke="#000" stroke-width="1.6"/>
<line x1="-4.6" y1="0" x2="0" y2="0" stroke="#000" stroke-width="1.4"/>
<text x="-9.4" y="3.2" font-size="8.7" text-anchor="end" class="b">0.0</text>
<line x1="-4.6" y1="19.3" x2="0" y2="19.3" stroke="#000" stroke-width="1.4"/>
<text x="-9.4" y="22.5" font-size="8.7" text-anchor="end" class="b">0.2</text>
<line x1="-4.6" y1="38.7" x2="0" y2="38.7" stroke="#000" stroke-width="1.4"/>
<text x="-9.4" y="41.9" font-size="8.7" text-anchor="end" class="b">0.4</text>
<line x1="-4.6" y1="58" x2="0" y2="58" stroke="#000" stroke-width="1.4"/>
<text x="-9.4" y="61.2" font-size="8.7" text-anchor="end" class="b">0.6</text>
<line x1="-4.6" y1="77.4" x2="0" y2="77.4" stroke="#000" stroke-width="1.4"/>
<text x="-9.4" y="80.6" font-size="8.7" text-anchor="end" class="b">0.8</text>
<line x1="-4.6" y1="96.7" x2="0" y2="96.7" stroke="#000" stroke-width="1.4"/>
<text x="-9.4" y="99.9" font-size="8.7" text-anchor="end" class="b">1.0</text>
<line x1="0" y1="96.7" x2="0" y2="101.3" stroke="#000" stroke-width="1.4"/>
<text x="0" y="112.6" font-size="8.9" text-anchor="middle" class="b">90°W</text>
<line x1="65.2" y1="96.7" x2="65.2" y2="101.3" stroke="#000" stroke-width="1.4"/>
<text x="65.2" y="112.6" font-size="8.9" text-anchor="middle" class="b">70°W</text>
<line x1="130.5" y1="96.7" x2="130.5" y2="101.3" stroke="#000" stroke-width="1.4"/>
<text x="130.5" y="112.6" font-size="8.9" text-anchor="middle" class="b">50°W</text>
<line x1="195.7" y1="96.7" x2="195.7" y2="101.3" stroke="#000" stroke-width="1.4"/>
<text x="195.7" y="112.6" font-size="8.9" text-anchor="middle" class="b">30°W</text>
<line x1="261" y1="96.7" x2="261" y2="101.3" stroke="#000" stroke-width="1.4"/>
<text x="261" y="112.6" font-size="8.9" text-anchor="middle" class="b">10°W</text>
<text x="146.8" y="-7.5" font-size="8.8" text-anchor="middle" class="b">LGM</text>
</g>
<text x="331.0" y="357.2" font-size="8.7" class="b">GISS-E2-R</text>
<text x="4" y="379.3" font-size="9.2" font-weight="bold">c</text>
<g transform="translate(37.3,386.5)">
<clipPath id="cc1"><rect x="0" y="0" width="293.2" height="96.7"/></clipPath>
<g clip-path="url(#cc1)">
<rect x="0" y="0" width="293.2" height="96.7" fill="#6bc4a5"/>
<polygon fill="#bce3a0" points="-3,-2 -3,66.5 31.7,66.5 32.3,67.4 33.4,69.1 35.1,71.8 37.3,75.2 39.3,78.4 40.9,81.1 42.2,83.5 43.2,85.5 44.3,87.3 45.6,88.8 47,90.1 48.5,91.2 50.1,92 52,92.5 54.1,92.8 56.3,92.6 58.6,92.5 61,92.3 63.5,92.1 66,91.9 68.5,91.6 71,91.4 73.5,91.1 76,90.9 79.1,90.6 82.8,90.2 87.2,89.8 92.2,89.2 97.2,88.8 102.2,88.2 107.2,87.8 112.2,87.2 117,86.8 121.6,86.4 126.1,86 130.3,85.6 134.9,85.2 139.9,84.7 145.3,84.2 151,83.5 156.8,82.8 162.5,82.2 168.2,81.4 173.9,80.7 179.7,80 185.4,79.3 191.1,78.7 196.9,78.1 202.6,77.6 208.3,77.2 214.1,76.9 219.8,76.6 224.7,76.3 228.7,76 231.8,75.7 234.1,75.4 236.4,75.3 238.7,75.3 241,75.4 243.3,75.7 245.4,76.1 247.4,76.5 249.3,77 251,77.6 252.8,78.2 254.7,78.9 256.6,79.7 258.6,80.6 260.1,81.2 261.1,81.7 261.6,81.9 296.2,81.9 296.2,-2"/>
<polygon fill="#f1f9a9" points="-3,-2 -3,42.5 31.7,42.5 31.9,42.8 32.3,43.2 32.8,44 33.6,45 34.5,46.1 35.5,47.4 36.6,48.8 37.8,50.2 39.1,51.8 40.3,53.2 41.6,54.8 42.8,56.2 44.1,57.7 45.5,59.1 47,60.4 48.5,61.6 50.1,62.6 52,63.3 54.1,63.7 56.3,63.9 58.6,63.9 61,63.8 63.5,63.7 66,63.3 68.5,63 71,62.7 73.5,62.4 76,62 78.5,61.7 81,61.3 83.5,61 86,60.6 88.5,60.3 91,59.9 93.5,59.5 96,59.1 98.6,58.7 101.3,58.3 104.2,57.9 107.2,57.5 110.2,57.1 113.2,56.6 116.2,56.1 119.2,55.6 122.3,55.2 125.4,54.7 128.6,54.3 131.8,53.9 135,53.5 138,53 141,52.6 143.9,52.1 146.7,51.6 149.6,51.1 152.5,50.5 155.3,49.9 158.2,49.3 161.1,48.7 163.9,48.1 166.8,47.4 169.6,46.6 172.5,45.9 175.4,45.1 178.2,44.2 181.1,43.2 184,42 186.8,40.8 189.7,39.3 192.6,38 195.4,36.7 198.3,35.5 201.2,34.3 204,33.2 206.9,32.2 209.8,31.3 212.6,30.4 215.5,29.7 218.4,28.9 221.2,28.3 224.1,27.7 226.9,27.2 229.8,26.7 232.7,26.3 235.5,25.9 238.4,25.4 241.3,24.9 244.1,24.4 247,23.8 249.8,23.3 252.5,22.8 255.2,22.3 257.7,21.8 259.7,21.5 261,21.2 261.6,21.1 296.2,21.1 296.2,-2"/>
<polygon fill="#fee695" points="-3,-2 -3,19.5 31.7,19.5 32,19.7 32.5,20.1 33.2,20.6 34.2,21.4 35.2,22.3 36.2,23.4 37.2,24.8 38.2,26.2 39.3,28 40.6,29.9 42,32.1 43.5,34.5 44.9,36.7 46.3,38.8 47.6,40.7 48.8,42.3 50.3,43.7 52.1,44.7 54.1,45.3 56.3,45.7 58.6,45.8 61,45.8 63.5,45.7 66,45.3 68.5,45 71,44.7 73.5,44.3 76,43.9 78.5,43.5 81,43 83.5,42.6 86,42.1 88.5,41.5 91,41 93.5,40.4 96,39.8 98.6,39.2 101.3,38.5 104.2,37.8 107.2,37.2 110.2,36.4 113.2,35.6 116.2,34.8 119.2,33.9 122.3,32.9 125.4,32 128.6,31.1 131.8,30.1 135.7,29.1 140.2,27.9 145.3,26.7 151,25.4 156.8,24.1 162.5,23 168.2,21.9 173.9,20.8 179.7,19.8 185.4,18.8 191.1,17.8 196.9,16.9 202.6,15.9 208.3,15 214.1,14.1 219.8,13.2 224.8,12.5 229.1,11.8 232.7,11.3 235.5,10.8 238.4,10.4 241.3,9.9 244.1,9.5 247,9.1 249.8,8.7 252.5,8.3 255.2,7.9 257.7,7.5 259.7,7.2 261,7 261.6,6.9 296.2,6.9 296.2,-2"/>
<polygon fill="#fdbd6e" points="-3,-2 -3,16.9 31.2,16.9 31.6,16.9 32.5,17.1 33.8,17.2 35.6,17.4 37.3,17.8 39.1,18.2 40.8,18.8 42.6,19.4 44.2,20.3 45.8,21.4 47.2,22.7 48.5,24.2 49.8,25.7 51.1,27 52.4,28.2 53.8,29.3 55.2,30.2 56.7,30.9 58.4,31.4 60.1,31.7 62,31.9 63.9,31.9 66,31.9 68.2,31.7 70.4,31.5 72.6,31.3 74.8,31 77,30.8 79.2,30.5 81.4,30.2 83.5,29.9 85.7,29.6 87.9,29.3 90.1,29 92.3,28.7 94.5,28.4 96.7,28.1 98.9,27.7 101.1,27.3 103.3,26.8 105.2,26.3 107,25.7 108.5,25 109.8,24.2 111,23.4 112.1,22.6 113.1,21.7 114,20.8 115,20 116.1,19.2 117.3,18.5 118.6,17.9 120.1,17.3 121.9,16.7 123.8,16.2 126,15.8 128.3,15.4 130.7,15 133.3,14.7 135.9,14.4 138.3,14.1 140.6,13.7 142.8,13.4 144.8,13 147.4,12.9 150.7,12.8 154.8,13 159.4,13.3 164,13.4 168.3,13.2 172.5,12.7 176.5,11.9 181,11.2 185.8,10.5 191.1,9.8 196.9,9.1 202.6,8.4 208.3,7.8 214.1,7.1 219.8,6.5 224.8,5.9 229.1,5.4 232.7,4.9 235.5,4.5 238.4,4.1 241.3,3.7 244.1,3.3 247,2.9 249.8,2.6 252.5,2.2 255.2,1.9 257.7,1.6 259.7,1.4 261,1.3 261.6,1.2 296.2,1.2 296.2,-2"/>
<polygon fill="#f37648" points="-3,-2 -3,16 31.2,16 32,16 33.5,16 35.8,15.9 38.9,15.8 41.6,15.7 44,15.6 46.1,15.5 47.8,15.3 49.5,15.2 51,15.2 52.4,15.1 53.8,15.1 55.2,15.2 56.7,15.3 58.4,15.5 60.1,15.7 62,15.8 63.9,15.9 66,15.9 68.2,15.8 70.4,15.6 72.6,15.4 74.8,15 77,14.6 79.2,14.1 81.4,13.6 83.5,13.1 85.7,12.5 87.9,12 90.1,11.6 92.3,11.2 94.5,10.9 96.7,10.6 98.9,10.3 101.1,10 103.3,9.8 105.4,9.5 107.6,9.3 109.8,9.1 112,8.9 114.7,8.7 118,8.4 121.9,8 126.2,7.6 130.5,7.2 134.5,6.8 138.4,6.4 142.1,6 146.1,5.9 150.3,5.9 154.8,6.2 159.4,6.7 163.3,7 166.2,7 168.2,6.9 169.4,6.7 170.9,6.4 172.9,6.1 175.4,5.8 178.2,5.5 181.8,5.2 186.1,4.8 191.1,4.4 196.9,3.9 201.9,3.5 206.2,3.1 209.8,2.7 212.6,2.4 215.5,2 218.4,1.6 221.2,1.1 224.1,0.6 226.2,0.2 227.7,-0.1 228.4,-0.2 296.2,-0.2 296.2,-2"/>
<polygon fill="#f36b43" points="-3,-2 -3,14.3 31.2,14.3 32.1,14.3 33.8,14.3 36.5,14.4 40,14.5 42.9,14.4 45.3,14.2 47.2,13.8 48.5,13.3 49.8,12.8 51.1,12.3 52.4,11.7 53.8,11.2 55.2,10.9 56.7,10.7 58.4,10.7 60.1,10.9 62,11 63.9,11.2 66,11.3 68.2,11.4 70.4,11.5 72.6,11.4 74.8,11.3 77,11.1 79.2,10.8 81.4,10.4 83.5,10 85.7,9.4 87.9,8.9 90.1,8.5 92.3,8 94.5,7.6 96.7,7.2 98.9,6.8 101.1,6.5 103.3,6.3 105.4,6 107.6,5.9 109.8,5.7 112,5.6 114.7,5.5 118,5.3 121.9,5 126.2,4.6 130.5,4.3 134.5,4.1 138.4,3.8 142.1,3.7 146.1,3.5 150.3,3.4 154.8,3.3 159.4,3.3 164,3.2 168.3,3.1 172.5,2.9 176.5,2.7 180.7,2.4 185,2.2 189.4,1.9 194,1.6 198,1.3 201.4,1 204.3,0.7 206.6,0.3 208.3,0.1 209.5,-0.1 210,-0.2 296.2,-0.2 296.2,-2"/>
<polygon fill="#d6404e" points="-3,-2 -3,12.2 31.2,12.2 32,12.2 33.5,12.2 35.8,12.3 38.9,12.4 41.6,12.3 43.9,12 45.8,11.5 47.3,10.9 48.8,10.2 50.4,9.6 51.9,8.9 53.4,8.2 55.6,7.7 58.3,7.2 61.6,6.7 65.6,6.4 69.6,6 73.8,5.6 78.1,5.2 82.4,4.8 86.8,4.3 91.2,3.9 95.6,3.4 100,3 104.3,2.6 108.7,2.3 113.1,2 117.5,1.8 122.2,1.6 127.4,1.4 132.9,1.3 138.8,1.1 144.4,1.1 149.8,1.1 154.8,1.1 159.4,1.2 164,1.3 168.3,1.4 172.5,1.4 176.5,1.4 180.2,1.3 183.7,1.1 186.8,0.8 189.7,0.4 191.9,0.1 193.3,-0.1 194,-0.2 296.2,-0.2 296.2,-2"/>
<polygon fill="#a00443" points="-3,-2 -3,9 31.2,9 31.9,9.1 33.2,9.2 35.1,9.3 37.8,9.6 40.1,9.6 42,9.5 43.7,9.2 45,8.8 46.2,8.3 47.3,7.8 48.3,7.2 49.2,6.5 50.1,5.9 51.2,5.3 52.4,4.9 53.8,4.4 55.7,4.1 58.4,3.8 61.6,3.6 65.6,3.5 69.4,3.4 73.1,3.2 76.8,2.9 80.3,2.5 83.7,2.2 86.9,1.9 90.1,1.6 93.2,1.3 96,1.1 98.7,0.9 101.1,0.7 103.3,0.5 105.7,0.3 108.3,0.1 111.1,-0.1 114.2,-0.3 116.5,-0.5 118,-0.6 118.8,-0.6 296.2,-0.6 296.2,-2"/>
<polygon fill="#808080" points="-2,-2 32.1,0.5 32.1,30.5 33.3,34.5 35.3,44.5 35.7,60.5 37.7,74.5 40.7,82.5 42.7,86.5 44.1,98.5 -2,98.7"/>
<polygon fill="#808080" points="295.2,-2 257.7,0.5 257.7,99.1 295.2,98.7"/>
<line x1="50.4" y1="0" x2="50.4" y2="96.7" stroke="#777" stroke-width="0.45" stroke-dasharray="0.6,0.4" opacity="0.5"/>
<line x1="228.8" y1="0" x2="228.8" y2="96.7" stroke="#777" stroke-width="0.45" stroke-dasharray="0.6,0.4" opacity="0.5"/>
<line x1="50.4" y1="42.1" x2="228.8" y2="12.5" stroke="#2e2e2e" stroke-width="0.45"/>
<line x1="50.4" y1="64.2" x2="228.8" y2="25.8" stroke="#2e2e2e" stroke-width="0.45"/>
<line x1="50.4" y1="92.9" x2="228.8" y2="76.6" stroke="#2e2e2e" stroke-width="0.45"/>
</g>
<text x="147.5" y="24.1" font-size="6.6" text-anchor="middle" class="g">0.0034°</text>
<text x="147.5" y="39.9" font-size="6.6" text-anchor="middle" class="g">0.0033°</text>
<text x="147.5" y="81.2" font-size="6.6" text-anchor="middle" class="g">0.0018°</text>
<rect x="261.9" y="64.4" width="28.8" height="28.9" fill="#fff" stroke="#111" stroke-width="0.9"/>
<text font-size="6.6" text-anchor="middle" class="g"><tspan x="276.3" y="73">Mean</tspan><tspan x="276.3" y="81">slope:</tspan><tspan x="276.3" y="89.4">0.0028°</tspan></text>
<rect x="0" y="0" width="293.2" height="96.7" fill="none" stroke="#000" stroke-width="1.6"/>
<line x1="-4.6" y1="0" x2="0" y2="0" stroke="#000" stroke-width="1.4"/>
<text x="-9.4" y="3.2" font-size="8.7" text-anchor="end" class="b">0.0</text>
<line x1="-4.6" y1="19.3" x2="0" y2="19.3" stroke="#000" stroke-width="1.4"/>
<text x="-9.4" y="22.5" font-size="8.7" text-anchor="end" class="b">0.2</text>
<line x1="-4.6" y1="38.7" x2="0" y2="38.7" stroke="#000" stroke-width="1.4"/>
<text x="-9.4" y="41.9" font-size="8.7" text-anchor="end" class="b">0.4</text>
<line x1="-4.6" y1="58" x2="0" y2="58" stroke="#000" stroke-width="1.4"/>
<text x="-9.4" y="61.2" font-size="8.7" text-anchor="end" class="b">0.6</text>
<line x1="-4.6" y1="77.4" x2="0" y2="77.4" stroke="#000" stroke-width="1.4"/>
<text x="-9.4" y="80.6" font-size="8.7" text-anchor="end" class="b">0.8</text>
<line x1="-4.6" y1="96.7" x2="0" y2="96.7" stroke="#000" stroke-width="1.4"/>
<text x="-9.4" y="99.9" font-size="8.7" text-anchor="end" class="b">1.0</text>
<line x1="0" y1="96.7" x2="0" y2="101.3" stroke="#000" stroke-width="1.4"/>
<text x="0" y="112.6" font-size="8.9" text-anchor="middle" class="b">90°W</text>
<line x1="65.2" y1="96.7" x2="65.2" y2="101.3" stroke="#000" stroke-width="1.4"/>
<text x="65.2" y="112.6" font-size="8.9" text-anchor="middle" class="b">70°W</text>
<line x1="130.3" y1="96.7" x2="130.3" y2="101.3" stroke="#000" stroke-width="1.4"/>
<text x="130.3" y="112.6" font-size="8.9" text-anchor="middle" class="b">50°W</text>
<line x1="195.5" y1="96.7" x2="195.5" y2="101.3" stroke="#000" stroke-width="1.4"/>
<text x="195.5" y="112.6" font-size="8.9" text-anchor="middle" class="b">30°W</text>
<line x1="260.6" y1="96.7" x2="260.6" y2="101.3" stroke="#000" stroke-width="1.4"/>
<text x="260.6" y="112.6" font-size="8.9" text-anchor="middle" class="b">10°W</text>
<text x="146.6" y="-7.5" font-size="8.8" text-anchor="middle" class="b">PI</text>
<text transform="translate(-28.3,48.35) rotate(-90)" font-size="8.8" text-anchor="middle" class="b">Depth (km)</text>
</g>
<g transform="translate(389.5,386.5)">
<clipPath id="cc2"><rect x="0" y="0" width="293.6" height="96.7"/></clipPath>
<g clip-path="url(#cc2)">
<rect x="0" y="0" width="293.6" height="96.7" fill="#5e4fa2"/>
<polygon fill="#3d95b8" points="-3,-2 -3,60.5 32.5,60.5 33,61 34,62 35.5,63.5 37.5,65.5 39.2,67.3 40.6,68.9 41.6,70.4 42.4,71.6 43.2,72.8 44.1,73.8 45,74.6 46,75.4 47.1,76 48.2,76.6 49.4,77.1 50.6,77.5 52.1,77.9 53.7,78.2 55.5,78.4 57.5,78.6 59.4,78.8 61.1,79 62.8,79.1 64.2,79.3 66.2,79.3 68.8,79.2 71.8,79 75.2,78.6 79.1,78.3 83.4,77.9 88,77.5 93,77.1 98,76.7 103,76.2 108,75.8 113,75.2 117.8,74.7 122.4,74.1 126.9,73.4 131.1,72.7 135.7,72 140.7,71.4 146.1,70.8 151.8,70.2 157.6,69.7 163.3,69.3 169,69.1 174.7,69 180.5,68.9 186.2,68.8 191.9,68.7 197.7,68.7 203.4,68.6 209.1,68.5 214.9,68.4 220.6,68.3 225.6,68.1 229.9,67.8 233.5,67.5 236.3,67.1 238.9,66.7 241.2,66.3 243.2,65.8 244.9,65.4 246.5,65.1 247.9,65 249.2,65.1 250.4,65.4 251.9,65.8 253.7,66.3 256,66.9 258.5,67.7 260.5,68.2 261.8,68.6 262.4,68.8 296.6,68.8 296.6,-2"/>
<polygon fill="#94d4a4" points="-3,-2 -3,36.5 32.5,36.5 32.7,36.7 33.1,37.1 33.6,37.6 34.4,38.4 35.2,39.2 36.1,40.1 37,41 38,42 39,43.2 40,44.6 41,46.1 42,47.9 43.2,49.6 44.6,51.4 46.1,53.1 47.9,54.9 49.7,56.3 51.6,57.4 53.5,58.2 55.5,58.8 57.8,59.2 60.2,59.5 63,59.7 66,59.9 69.1,60 72.4,60 75.8,59.9 79.2,59.7 82.9,59.6 86.6,59.4 90.5,59.1 94.5,58.9 98.8,58.6 103.2,58.3 108,58 113,57.6 117.8,57.3 122.4,56.9 126.9,56.5 131.1,56.1 135,55.7 138.6,55.2 141.8,54.7 144.7,54.1 147.5,53.5 150.4,53 153.3,52.5 156.1,52.1 159,51.6 161.9,51 164.7,50.4 167.6,49.7 170.4,48.9 173.3,48.2 176.2,47.3 179,46.5 181.9,45.7 184.8,45 187.6,44.3 190.5,43.8 192.9,43.2 194.9,42.6 196.5,42 197.7,41.5 198.8,40.7 200,39.7 201.1,38.5 202.2,37 203.4,35.6 204.5,34.2 205.7,32.7 206.8,31.3 208,30 209.1,28.8 210.3,27.7 211.4,26.7 212.6,25.8 213.7,24.9 214.9,24.1 216,23.4 217.3,22.7 218.7,22 220.3,21.4 222,20.8 223.7,20.3 225.5,19.7 227.2,19.1 228.9,18.5 230.6,18 232.3,17.5 234,17.1 235.8,16.7 237.5,16.3 239.2,16.1 240.9,15.8 242.6,15.7 244.4,15.5 246.1,15.2 247.8,15 249.5,14.7 251.5,14.4 253.6,14 256,13.6 258.5,13.1 260.5,12.8 261.8,12.5 262.4,12.4 296.6,12.4 296.6,-2"/>
<polygon fill="#bce3a0" points="-3,-2 -3,31.5 32.5,31.5 32.6,31.6 32.9,31.9 33.2,32.2 33.8,32.8 34.4,33.4 35.1,34.1 36,35 37,36 38.1,37 39.2,38.1 40.4,39.2 41.6,40.4 43,41.5 44.5,42.6 46.1,43.6 47.9,44.6 49.7,45.5 51.6,46.2 53.5,46.9 55.5,47.4 57.8,47.8 60.2,48.2 63,48.6 66,49 69.1,49.2 72.4,49.4 75.8,49.4 79.2,49.4 82.9,49.2 86.6,49 90.5,48.7 94.5,48.3 98.8,47.8 103.2,47.2 108,46.6 113,45.8 117.8,45.2 122.4,44.6 126.9,44.1 131.1,43.6 135,43.3 138.6,43.1 141.8,43.1 144.7,43.1 147.2,42.9 149.4,42.5 151.4,41.9 153,41.1 154.4,40 155.8,38.7 157,37 158.1,35.1 159.1,33.1 159.9,31.2 160.6,29.4 161.2,27.5 161.8,25.8 162.5,24.1 163.2,22.6 164,21.1 165,19.8 166.1,18.6 167.3,17.7 168.7,17 170.3,16.3 172.3,15.6 174.6,15 177.2,14.4 179.5,13.9 181.7,13.4 183.6,13 185.3,12.6 187.8,12.2 190.9,11.8 194.8,11.5 199.4,11.2 204.3,10.9 209.4,10.4 214.9,9.9 220.6,9.2 225.6,8.7 229.9,8.2 233.5,7.9 236.3,7.6 239.2,7.3 242.1,6.9 244.9,6.5 247.8,6.1 250.6,5.8 253.3,5.4 256,5.1 258.5,4.8 260.5,4.6 261.8,4.5 262.4,4.4 296.6,4.4 296.6,-2"/>
<polygon fill="#e3f399" points="-3,-2 -3,25.5 32.5,25.5 32.8,25.8 33.2,26.4 34,27.4 35,28.6 36,29.8 37,30.9 38,32 39,33 40.1,34.1 41.2,35.3 42.4,36.6 43.6,38 44.9,39.3 46.1,40.4 47.4,41.4 48.6,42.2 50.1,43 51.7,43.8 53.5,44.5 55.5,45.1 57.8,45.7 60.2,46.2 63,46.7 66,47.1 69.1,47.4 72.4,47.6 75.8,47.7 79.2,47.7 82.9,47.6 86.6,47.4 90.5,47.1 94.5,46.7 98.8,46.2 103.2,45.6 108,44.9 113,44.1 117.8,43.3 122.4,42.6 126.9,42 131.1,41.4 134.9,40.9 138.2,40.5 140.9,40.3 143.2,40.1 145.4,39.9 147.4,39.4 149.2,38.9 151,38.2 152.5,37.3 154,36.1 155.3,34.6 156.4,32.9 157.4,31.2 158.3,29.4 159,27.7 159.6,26 160.2,24.4 160.9,22.8 161.7,21.3 162.6,19.8 163.6,18.6 164.7,17.5 166,16.6 167.4,15.8 169.1,15.1 170.9,14.5 173,13.9 175.3,13.3 177.6,12.7 179.9,12.3 182.2,11.8 184.5,11.4 187.4,11 190.8,10.7 194.8,10.4 199.4,10.1 204.3,9.7 209.4,9.3 214.9,8.8 220.6,8.2 225.6,7.7 229.9,7.3 233.5,6.9 236.3,6.7 239.2,6.3 242.1,6 244.9,5.6 247.8,5.2 250.6,4.9 253.3,4.6 256,4.3 258.5,4.1 260.5,3.9 261.8,3.8 262.4,3.7 296.6,3.7 296.6,-2"/>
<polygon fill="#fef0a7" points="-3,-2 -3,22.8 31.9,22.8 32.1,22.6 32.4,22.2 32.8,21.7 33.4,21 34,20.3 34.7,19.7 35.4,19.2 36.1,18.8 36.9,18.4 37.9,18.1 38.9,17.9 40.1,17.7 41.3,17.6 42.4,17.6 43.6,17.5 44.8,17.5 45.9,17.7 47,18 48.1,18.4 49.1,19 50.1,19.6 51.1,20.3 52.2,21 53.2,21.7 54.3,22.4 55.5,23 56.9,23.7 58.4,24.2 59.8,24.7 61.3,25.1 62.7,25.4 64.2,25.6 65.7,25.8 67.1,25.8 68.6,25.9 70,25.8 71.5,25.7 73,25.7 74.4,25.6 75.9,25.6 77.3,25.5 78.8,25.3 80.3,25.1 81.7,24.9 83.3,24.6 84.9,24.2 86.5,23.7 88.3,23.2 89.9,22.7 91.4,22.3 92.7,21.8 93.8,21.4 95.3,21 97.1,20.7 99.2,20.4 101.6,20.2 103.7,19.8 105.5,19.3 106.9,18.6 108.1,17.7 109.3,16.8 110.4,15.9 111.6,15 112.8,14.2 113.9,13.3 115.1,12.5 116.3,11.8 117.4,11 118.6,10.4 119.8,9.7 120.9,9.2 122.1,8.7 123.4,8.2 124.7,7.8 126.1,7.4 127.5,7 129,6.6 130.4,6.3 131.9,6 133.4,5.7 135.2,5.4 137.4,5 139.9,4.6 142.8,4.2 145.8,3.8 148.7,3.4 151.6,3 154.5,2.6 157.5,2.3 160.4,2 163.3,1.8 166.2,1.5 169,1.3 171.7,1.1 174.3,1 176.8,0.8 179.1,0.7 181.3,0.6 183.3,0.6 185.1,0.5 187,0.5 188.8,0.4 190.5,0.2 192.2,0.1 193.5,-0.1 194.4,-0.1 194.8,-0.2 296.6,-0.2 296.6,-2"/>
<polygon fill="#fdb567" points="-3,-2 -3,15.8 31.9,15.8 32.2,15.7 32.7,15.7 33.5,15.6 34.5,15.4 35.5,15.2 36.6,15 37.8,14.8 38.9,14.5 40.1,14.1 41.3,13.8 42.4,13.4 43.6,12.9 44.8,12.5 45.9,12.1 47.1,11.6 48.3,11.2 49.5,10.8 50.8,10.4 52.2,10.1 53.7,9.8 55.2,9.5 56.8,9.3 58.5,9.1 60.3,9 62.2,8.8 64.2,8.6 66.4,8.3 68.7,8 71.2,7.7 73.8,7.5 76.6,7.2 79.5,6.9 82.5,6.6 85.4,6.2 88.3,5.9 91.2,5.5 93.7,5.2 95.8,4.9 97.4,4.7 98.7,4.6 99.9,4.5 101.3,4.3 102.7,4.2 104.2,4 105.6,3.8 107.1,3.5 108.5,3.2 110,2.9 111.4,2.5 112.7,2.2 113.9,1.9 115.1,1.6 116.2,1.3 117.1,0.9 118,0.6 118.7,0.2 119.2,-0.2 119.6,-0.4 119.8,-0.5 296.6,-0.5 296.6,-2"/>
<polygon fill="#ee6445" points="-3,-2 -3,11.1 31.9,11.1 32.3,11 32.9,10.9 33.9,10.7 35.2,10.4 36.6,10 37.9,9.7 39.4,9.3 40.8,8.8 42.3,8.4 43.8,8 45.2,7.5 46.7,7.1 48.1,6.7 49.6,6.3 51.1,5.9 52.5,5.5 54,5.1 55.4,4.7 56.9,4.4 58.4,4 59.7,3.7 60.8,3.3 61.9,2.9 62.7,2.4 63.5,1.9 64.2,1.5 64.7,0.9 65.1,0.4 65.5,-0 65.7,-0.3 65.8,-0.5 296.6,-0.5 296.6,-2"/>
<polygon fill="#b91d48" points="-3,-2 -3,7.6 31.9,7.6 32.2,7.6 32.7,7.5 33.5,7.4 34.5,7.2 35.5,7.1 36.6,6.8 37.8,6.6 38.9,6.3 40.1,6 41.3,5.6 42.4,5.2 43.6,4.8 44.7,4.3 45.6,3.8 46.5,3.2 47.2,2.6 47.8,2.1 48.3,1.5 48.6,0.9 48.8,0.4 48.9,-0 49,-0.3 49.1,-0.5 296.6,-0.5 296.6,-2"/>
<polygon fill="#808080" points="-2,-2 32.5,0.5 32.5,26.5 34.9,30.5 36.1,40.5 36.5,52.5 37.5,62.5 40.5,68.5 43.5,74.5 44.9,84.5 45.5,98.5 -2,98.7"/>
<polygon fill="#808080" points="295.2,-2 258.5,0.5 258.5,99.1 295.2,98.7"/>
<line x1="51" y1="0" x2="51" y2="96.7" stroke="#777" stroke-width="0.45" stroke-dasharray="0.6,0.4" opacity="0.5"/>
<line x1="229.1" y1="0" x2="229.1" y2="96.7" stroke="#777" stroke-width="0.45" stroke-dasharray="0.6,0.4" opacity="0.5"/>
<line x1="51" y1="40" x2="229.1" y2="8.7" stroke="#2e2e2e" stroke-width="0.45"/>
<line x1="51" y1="57" x2="229.1" y2="18.5" stroke="#2e2e2e" stroke-width="0.45"/>
<line x1="51" y1="77.5" x2="229.1" y2="68.4" stroke="#2e2e2e" stroke-width="0.45"/>
</g>
<text x="140" y="20" font-size="6.6" text-anchor="middle" class="g">0.0037°</text>
<text x="140" y="34.4" font-size="6.6" text-anchor="middle" class="g">0.0044°</text>
<text x="140" y="70.4" font-size="6.6" text-anchor="middle" class="g">0.0012°</text>
<rect x="261.9" y="64.5" width="28.8" height="28.9" fill="#fff" stroke="#111" stroke-width="0.9"/>
<text font-size="6.6" text-anchor="middle" class="g"><tspan x="276.3" y="73.1">Mean</tspan><tspan x="276.3" y="81.1">slope:</tspan><tspan x="276.3" y="89.5">0.0031°</tspan></text>
<rect x="0" y="0" width="293.6" height="96.7" fill="none" stroke="#000" stroke-width="1.6"/>
<line x1="-4.6" y1="0" x2="0" y2="0" stroke="#000" stroke-width="1.4"/>
<text x="-9.4" y="3.2" font-size="8.7" text-anchor="end" class="b">0.0</text>
<line x1="-4.6" y1="19.3" x2="0" y2="19.3" stroke="#000" stroke-width="1.4"/>
<text x="-9.4" y="22.5" font-size="8.7" text-anchor="end" class="b">0.2</text>
<line x1="-4.6" y1="38.7" x2="0" y2="38.7" stroke="#000" stroke-width="1.4"/>
<text x="-9.4" y="41.9" font-size="8.7" text-anchor="end" class="b">0.4</text>
<line x1="-4.6" y1="58" x2="0" y2="58" stroke="#000" stroke-width="1.4"/>
<text x="-9.4" y="61.2" font-size="8.7" text-anchor="end" class="b">0.6</text>
<line x1="-4.6" y1="77.4" x2="0" y2="77.4" stroke="#000" stroke-width="1.4"/>
<text x="-9.4" y="80.6" font-size="8.7" text-anchor="end" class="b">0.8</text>
<line x1="-4.6" y1="96.7" x2="0" y2="96.7" stroke="#000" stroke-width="1.4"/>
<text x="-9.4" y="99.9" font-size="8.7" text-anchor="end" class="b">1.0</text>
<line x1="0" y1="96.7" x2="0" y2="101.3" stroke="#000" stroke-width="1.4"/>
<text x="0" y="112.6" font-size="8.9" text-anchor="middle" class="b">90°W</text>
<line x1="65.2" y1="96.7" x2="65.2" y2="101.3" stroke="#000" stroke-width="1.4"/>
<text x="65.2" y="112.6" font-size="8.9" text-anchor="middle" class="b">70°W</text>
<line x1="130.5" y1="96.7" x2="130.5" y2="101.3" stroke="#000" stroke-width="1.4"/>
<text x="130.5" y="112.6" font-size="8.9" text-anchor="middle" class="b">50°W</text>
<line x1="195.7" y1="96.7" x2="195.7" y2="101.3" stroke="#000" stroke-width="1.4"/>
<text x="195.7" y="112.6" font-size="8.9" text-anchor="middle" class="b">30°W</text>
<line x1="261" y1="96.7" x2="261" y2="101.3" stroke="#000" stroke-width="1.4"/>
<text x="261" y="112.6" font-size="8.9" text-anchor="middle" class="b">10°W</text>
<text x="146.8" y="-7.5" font-size="8.8" text-anchor="middle" class="b">LGM</text>
</g>
<text x="331.0" y="531.6" font-size="8.7" class="b">IPSL-CM5A-LR</text>
<text x="4" y="553.7" font-size="9.2" font-weight="bold">d</text>
<g transform="translate(37.3,560.9)">
<clipPath id="cd1"><rect x="0" y="0" width="293.2" height="96.7"/></clipPath>
<g clip-path="url(#cd1)">
<rect x="0" y="0" width="293.2" height="96.7" fill="#3d95b8"/>
<polygon fill="#6bc4a5" points="-3,-2 -3,60.1 31.7,60.1 31.7,60.2 31.8,60.3 31.9,60.5 32,60.7 32.2,61.3 32.6,62.2 33.1,63.4 33.7,64.9 34.4,66.2 35.1,67.3 35.8,68.2 36.6,69 37.4,69.8 38.3,70.7 39.2,71.6 40.2,72.6 41.3,73.5 42.4,74.2 43.6,74.9 44.8,75.4 46.1,75.9 47.3,76.5 48.6,77.2 49.8,78 51.1,78.7 52.5,79.5 54,80.2 55.5,81 57.3,81.5 59.6,81.9 62.2,82.1 65.2,82.1 68.7,82 72.7,81.9 77.2,81.7 82.2,81.5 87.2,81.3 92.2,81.1 97.2,81 102.2,80.9 107.6,80.7 113.5,80.6 119.8,80.4 126.6,80.1 133.1,79.8 139.3,79.5 145.3,79.1 151,78.6 156.8,78.1 162.5,77.4 168.2,76.8 173.9,76 179,75.3 183.3,74.5 186.8,73.7 189.7,72.9 192.6,72.1 195.4,71.3 198.3,70.6 201.2,69.8 204,69.1 206.9,68.3 209.8,67.4 212.6,66.6 215.5,65.7 218.4,65 221.2,64.2 224.1,63.6 226.9,63 229.8,62.4 232.7,62 235.5,61.7 238.4,61.4 241.3,61.1 244.1,61 247,60.9 249.8,60.9 252.5,61.2 255.2,61.7 257.7,62.4 259.7,62.9 261,63.3 261.6,63.4 296.2,63.4 296.2,-2"/>
<polygon fill="#a9dca4" points="-3,-2 -3,40.7 31.7,40.7 32.1,41.2 32.8,42.3 34,43.9 35.5,46 37,48 38.5,49.9 40,51.7 41.5,53.5 43.1,55 44.8,56.3 46.5,57.4 48.5,58.2 50.4,58.8 52.4,59.2 54.5,59.4 56.5,59.3 58.8,59.1 61.1,59 63.5,58.9 66,58.7 68,58.6 69.6,58.5 70.8,58.5 71.6,58.4 73.4,58.3 76.3,58.1 80.4,57.8 85.5,57.5 90.6,57.1 95.7,56.7 100.8,56.3 105.9,55.9 111,55.5 116.1,55.1 121.2,54.7 126.3,54.3 130.7,53.9 134.4,53.6 137.3,53.4 139.4,53.2 141.6,52.9 143.8,52.6 146,52.2 148.2,51.8 150.4,51.3 152.6,50.8 154.7,50.2 156.9,49.5 159.1,48.9 161.3,48.4 163.5,47.9 165.7,47.4 167.9,47 170.1,46.5 172.3,46.1 174.5,45.7 176.6,45.3 178.8,44.9 181,44.6 183.2,44.2 185.4,43.9 187.6,43.5 189.8,43.1 192,42.7 194.2,42.2 196.4,41.7 198.5,41.2 200.7,40.6 202.9,40 205.1,39.4 207.3,38.8 209.5,38.1 211.7,37.5 213.9,36.8 216.1,36.1 218.3,35.5 220.4,34.8 222.6,34.2 224.8,33.5 227,32.9 229.2,32.2 231.4,31.5 233.6,30.9 235.8,30.2 238,29.6 240.2,28.9 242.3,28.3 244.5,27.6 246.7,27 248.9,26.5 251.1,26 253.3,25.5 255.3,25.1 257.2,24.8 258.9,24.5 260.4,24.3 261.6,24.2 262.3,24 262.7,24 296.2,24 296.2,-2"/>
<polygon fill="#bce3a0" points="-3,-2 -3,33.7 31.7,33.7 32.1,34.2 32.8,35.1 34,36.5 35.5,38.3 37,40.2 38.5,42.1 40,44.1 41.5,46.1 43.1,48 44.8,49.7 46.5,51.4 48.5,52.9 50.4,54 52.4,54.7 54.5,55 56.5,54.9 58.8,54.7 61.1,54.5 63.5,54.3 66,54 68,53.5 69.6,53 70.8,52.4 71.6,51.7 72.8,51 74.4,50.3 76.5,49.7 79.1,49.1 81.6,48.5 84.2,47.8 86.8,47.2 89.3,46.6 91.9,46 94.4,45.2 97,44.5 99.5,43.7 102.1,42.8 104.6,41.8 107.2,40.7 109.7,39.6 112,38.5 114.1,37.3 115.9,36 117.4,34.7 118.9,33.5 120.5,32.2 122,30.9 123.5,29.6 125.2,28.5 127,27.5 128.9,26.6 130.9,25.8 133.1,25.1 135.4,24.6 137.8,24.1 140.4,23.8 143,23.4 145.5,23.1 148.1,22.8 150.6,22.4 153.2,22.2 155.7,21.9 158.3,21.7 160.8,21.5 163.4,21.3 165.9,21.1 168.5,20.9 171.1,20.8 174.2,20.7 178.1,20.6 182.6,20.6 187.7,20.6 192.6,20.6 197.3,20.8 201.8,20.9 206.2,21.2 209.7,21.7 212.4,22.3 214.3,23.2 215.3,24.3 216.8,24.9 218.8,25.2 221.2,25.2 224.1,24.7 226.9,24.2 229.8,23.7 232.7,23.2 235.5,22.6 238.4,21.9 241.3,21.2 244.1,20.4 247,19.6 249.8,18.7 252.5,17.8 255.2,16.8 257.7,15.9 259.7,15.1 261,14.6 261.6,14.4 296.2,14.4 296.2,-2"/>
<polygon fill="#e0f09c" points="-3,-2 -3,28.7 31.7,28.7 32.1,29 32.8,29.5 34,30.2 35.5,31.2 37,32.2 38.5,33.3 40,34.4 41.5,35.5 43.1,36.6 44.8,37.8 46.5,39 48.5,40.2 50.4,41.1 52.4,41.7 54.5,41.9 56.5,41.7 58.8,41.6 61.1,41.4 63.5,41.2 66,41 68,40.8 69.6,40.5 70.8,40.3 71.6,40 72.8,39.7 74.4,39.5 76.5,39.3 79.1,39.2 81.6,39 84.2,38.8 86.8,38.6 89.3,38.3 91.9,38 94.4,37.6 97,37.2 99.5,36.7 102.1,36.1 104.6,35.4 107.2,34.7 109.7,34 112,33.1 114.1,32.2 115.9,31.3 117.4,30.3 118.9,29.2 120.5,28.2 122,27.2 123.5,26.2 125.2,25.2 127,24.4 128.9,23.7 130.9,23 133.1,22.4 135.4,22 137.8,21.7 140.4,21.5 143,21.2 145.5,21 148.1,20.7 150.6,20.4 153.2,20.1 155.7,19.8 158.3,19.4 160.8,19.1 163.4,18.7 165.9,18.4 168.5,18.1 171.1,17.9 173.6,17.7 176.2,17.5 178.7,17.3 181.3,17.2 183.8,17.2 186.4,17.1 188.9,17.1 191.5,17.1 194.5,17.1 197.9,17.2 201.8,17.4 206.2,17.6 209.7,18 212.4,18.5 214.3,19.2 215.3,20 216.8,20.5 218.8,20.7 221.2,20.6 224.1,20.1 226.9,19.7 229.8,19.2 232.7,18.7 235.5,18.3 238.4,17.8 241.3,17.2 244.1,16.6 247,15.9 249.8,15.1 252.5,14.3 255.2,13.5 257.7,12.6 259.7,11.9 261,11.4 261.6,11.2 296.2,11.2 296.2,-2"/>
<polygon fill="#fbf7ae" points="-3,-2 -3,26.7 31.7,26.7 32.1,26.8 32.8,26.9 34,27 35.5,27.2 37,27.5 38.5,27.8 40,28.1 41.5,28.5 43.1,28.9 44.8,29.4 46.5,29.9 48.5,30.4 50.4,30.7 52.4,31 54.5,31.1 56.5,31.1 58.8,31.1 61.1,31 63.5,31 66,30.9 68,30.7 69.6,30.5 70.8,30.2 71.6,29.9 72.8,29.5 74.4,29.1 76.5,28.7 79.1,28.3 81.4,27.8 83.4,27.2 85.2,26.6 86.8,25.8 88.3,25 89.8,24.1 91.3,23.1 92.9,22.1 94.5,21.1 96.3,20 98.2,19 100.3,18 102.5,17 104.8,16.1 107.2,15.2 109.7,14.3 112.3,13.5 114.9,12.8 117.4,12.2 120,11.7 122.5,11.3 125.1,10.9 127.6,10.5 130.2,10.2 133.4,9.9 137.2,9.7 141.7,9.4 146.8,9.2 151.9,9.1 157,9 162.1,8.9 167.2,8.9 172.3,9 177.4,9.1 182.6,9.2 187.7,9.4 192.6,9.7 197.3,9.9 201.8,10.2 206.2,10.5 209.7,11 212.4,11.6 214.3,12.4 215.3,13.4 216.8,14.1 218.8,14.6 221.2,14.9 224.1,14.9 226.9,14.8 229.8,14.6 232.7,14.4 235.5,14.1 238.4,13.7 241.3,13.2 244.1,12.6 247,11.8 249.8,11.1 252.5,10.4 255.2,9.6 257.7,8.9 259.7,8.3 261,7.9 261.6,7.7 296.2,7.7 296.2,-2"/>
<polygon fill="#fee695" points="-3,-2 -3,20.1 31.7,20.1 32.1,20.1 32.8,20.1 34,20.1 35.5,20.1 36.9,20 38.3,19.9 39.6,19.7 40.8,19.5 42.1,19.2 43.3,18.8 44.6,18.4 45.8,17.9 47,17.3 48.1,16.7 49.2,16 50.2,15.2 51.3,14.5 52.4,13.7 53.6,13 54.8,12.2 56.2,11.5 57.7,10.9 59.3,10.4 61.1,9.9 63,9.4 65.1,9 67.5,8.7 70,8.5 72.8,8.3 76.1,8.1 79.7,7.9 83.7,7.7 88,7.6 92.5,7.4 97.2,7.2 102.2,7 107.6,6.8 113.5,6.6 119.8,6.4 126.6,6.1 133.1,5.9 139.3,5.7 145.3,5.4 151,5.2 156.8,5 162.5,4.8 168.2,4.8 173.9,4.8 179,4.8 183.3,5 186.8,5.2 189.7,5.5 192.6,5.8 195.4,6.1 198.3,6.5 201.2,6.9 204,7.3 206.9,7.7 209.8,8.1 212.6,8.5 215.5,8.9 218.4,9.2 221.2,9.4 224.1,9.6 226.9,9.6 229.8,9.6 232.7,9.6 235.5,9.4 238.4,9.1 241.3,8.7 244.1,8.3 247,7.7 249.8,7.1 252.5,6.5 255.2,5.9 257.7,5.3 259.7,4.8 261,4.5 261.6,4.3 296.2,4.3 296.2,-2"/>
<polygon fill="#fdd384" points="-3,-2 -3,0.4 191.7,0.4 191.9,0.4 192.1,0.4 192.6,0.4 193.1,0.4 194.3,0.6 196,0.9 198.3,1.4 201.2,2 204,2.5 206.9,2.9 209.8,3.3 212.6,3.5 215.5,3.7 218.4,3.9 221.2,4 224.1,4.1 226.9,4.2 229.8,4.2 232.7,4.1 235.5,4 238.4,3.8 241.3,3.6 244.1,3.2 247,2.8 249.5,2.4 251.7,2 253.4,1.6 254.9,1.1 256,0.8 256.7,0.5 257,0.4 296.2,0.4 296.2,-2"/>
<polygon fill="#fdbd6e" points="-3,-2 -3,15.5 31.7,15.5 32.1,15.5 33,15.4 34.3,15.2 36.1,15 37.8,14.7 39.4,14.4 41,14 42.5,13.5 43.8,12.9 45.1,12.2 46.2,11.5 47.2,10.7 48.2,9.9 49.2,9.1 50.2,8.2 51.2,7.4 52.3,6.6 53.6,5.9 55,5.3 56.5,4.7 58.1,4.2 60,3.8 62.1,3.5 64.3,3.2 67,2.9 70.1,2.7 73.7,2.5 77.7,2.3 82,2.2 86.5,2.1 91.2,2 96.2,2 102,1.9 108.6,1.9 116.1,1.8 124.3,1.7 132.7,1.7 141.1,1.6 149.6,1.5 158.2,1.4 165.9,1.3 172.8,1.2 178.8,1 184,0.8 187.8,0.6 190.4,0.5 191.7,0.4 296.2,0.4 296.2,-2"/>
<polygon fill="#f99554" points="-3,-2 -3,12.7 31.7,12.7 32.1,12.6 33,12.5 34.3,12.3 36.1,12 37.7,11.6 39.2,11.2 40.6,10.8 41.8,10.2 43,9.7 44.1,9.1 45.2,8.5 46.2,7.8 47.2,7 48.2,6.3 49.2,5.5 50.2,4.7 51.3,4 52.6,3.4 54,3 55.5,2.6 57.1,2.3 58.8,2.1 60.7,1.9 62.7,1.7 65.1,1.6 67.8,1.4 71,1.1 74.5,0.9 77.1,0.7 78.8,0.6 79.7,0.5 296.2,0.5 296.2,-2"/>
<polygon fill="#f36b43" points="-3,-2 -3,9.1 31.7,9.1 32.1,9.1 32.8,9 34,9 35.5,8.9 36.9,8.7 38.3,8.4 39.6,8 40.8,7.5 42,6.9 43.1,6.3 44.2,5.7 45.2,5.1 46.2,4.5 47.2,3.9 48.2,3.4 49.2,2.9 50.3,2.4 51.4,1.9 52.6,1.5 53.8,1.1 54.8,0.8 55.4,0.6 55.7,0.5 296.2,0.5 296.2,-2"/>
<polygon fill="#d6404e" points="-3,-2 -3,6.1 31.7,6.1 32,6.1 32.6,6.1 33.6,6 34.8,6 36.1,5.8 37.3,5.6 38.6,5.2 39.8,4.8 41,4.3 42.1,3.8 43.2,3.4 44.2,2.9 45.1,2.4 46,1.9 46.8,1.5 47.6,1.1 48.1,0.8 48.5,0.6 48.7,0.5 296.2,0.5 296.2,-2"/>
<polygon fill="#a00443" points="-3,-2 -3,2.7 31.7,2.7 32.1,2.7 32.8,2.7 34,2.7 35.5,2.7 36.9,2.6 38.3,2.5 39.6,2.3 40.8,2.1 41.9,1.8 42.8,1.5 43.5,1.3 44,1 44.3,0.7 44.6,0.6 44.7,0.5 296.2,0.5 296.2,-2"/>
<polygon fill="#808080" points="-2,-2 32.1,1.1 32.1,61.1 33.3,67.1 35.3,71.1 36.1,81.1 36.7,99.1 -2,98.7"/>
<polygon fill="#808080" points="295.2,-2 260.5,1.1 260.5,99.7 295.2,98.7"/>
<line x1="50.4" y1="0" x2="50.4" y2="96.7" stroke="#777" stroke-width="0.45" stroke-dasharray="0.6,0.4" opacity="0.5"/>
<line x1="228.8" y1="0" x2="228.8" y2="96.7" stroke="#777" stroke-width="0.45" stroke-dasharray="0.6,0.4" opacity="0.5"/>
<line x1="50.4" y1="32.6" x2="228.8" y2="14.4" stroke="#2e2e2e" stroke-width="0.45"/>
<line x1="50.4" y1="43.6" x2="228.8" y2="20.6" stroke="#2e2e2e" stroke-width="0.45"/>
<line x1="50.4" y1="58.8" x2="228.8" y2="31.4" stroke="#2e2e2e" stroke-width="0.45"/>
</g>
<text x="148.5" y="19.9" font-size="6.6" text-anchor="middle" class="g">0.0020°</text>
<text x="148.5" y="28.6" font-size="6.6" text-anchor="middle" class="g">0.0030°</text>
<text x="148.5" y="40.5" font-size="6.6" text-anchor="middle" class="g">0.0032°</text>
<rect x="261.9" y="64.4" width="28.8" height="28.9" fill="#fff" stroke="#111" stroke-width="0.9"/>
<text font-size="6.6" text-anchor="middle" class="g"><tspan x="276.3" y="73">Mean</tspan><tspan x="276.3" y="81">slope:</tspan><tspan x="276.3" y="89.4">0.0027°</tspan></text>
<rect x="0" y="0" width="293.2" height="96.7" fill="none" stroke="#000" stroke-width="1.6"/>
<line x1="-4.6" y1="0" x2="0" y2="0" stroke="#000" stroke-width="1.4"/>
<text x="-9.4" y="3.2" font-size="8.7" text-anchor="end" class="b">0.0</text>
<line x1="-4.6" y1="19.3" x2="0" y2="19.3" stroke="#000" stroke-width="1.4"/>
<text x="-9.4" y="22.5" font-size="8.7" text-anchor="end" class="b">0.2</text>
<line x1="-4.6" y1="38.7" x2="0" y2="38.7" stroke="#000" stroke-width="1.4"/>
<text x="-9.4" y="41.9" font-size="8.7" text-anchor="end" class="b">0.4</text>
<line x1="-4.6" y1="58" x2="0" y2="58" stroke="#000" stroke-width="1.4"/>
<text x="-9.4" y="61.2" font-size="8.7" text-anchor="end" class="b">0.6</text>
<line x1="-4.6" y1="77.4" x2="0" y2="77.4" stroke="#000" stroke-width="1.4"/>
<text x="-9.4" y="80.6" font-size="8.7" text-anchor="end" class="b">0.8</text>
<line x1="-4.6" y1="96.7" x2="0" y2="96.7" stroke="#000" stroke-width="1.4"/>
<text x="-9.4" y="99.9" font-size="8.7" text-anchor="end" class="b">1.0</text>
<line x1="0" y1="96.7" x2="0" y2="101.3" stroke="#000" stroke-width="1.4"/>
<text x="0" y="112.6" font-size="8.9" text-anchor="middle" class="b">90°W</text>
<line x1="65.2" y1="96.7" x2="65.2" y2="101.3" stroke="#000" stroke-width="1.4"/>
<text x="65.2" y="112.6" font-size="8.9" text-anchor="middle" class="b">70°W</text>
<line x1="130.3" y1="96.7" x2="130.3" y2="101.3" stroke="#000" stroke-width="1.4"/>
<text x="130.3" y="112.6" font-size="8.9" text-anchor="middle" class="b">50°W</text>
<line x1="195.5" y1="96.7" x2="195.5" y2="101.3" stroke="#000" stroke-width="1.4"/>
<text x="195.5" y="112.6" font-size="8.9" text-anchor="middle" class="b">30°W</text>
<line x1="260.6" y1="96.7" x2="260.6" y2="101.3" stroke="#000" stroke-width="1.4"/>
<text x="260.6" y="112.6" font-size="8.9" text-anchor="middle" class="b">10°W</text>
<text x="146.6" y="-7.5" font-size="8.8" text-anchor="middle" class="b">PI</text>
<text transform="translate(-28.3,48.35) rotate(-90)" font-size="8.8" text-anchor="middle" class="b">Depth (km)</text>
</g>
<g transform="translate(389.5,560.9)">
<clipPath id="cd2"><rect x="0" y="0" width="293.6" height="96.7"/></clipPath>
<g clip-path="url(#cd2)">
<rect x="0" y="0" width="293.6" height="96.7" fill="#5e4fa2"/>
<polygon fill="#4a6db0" points="-3,-2 -3,31.1 32.5,31.1 32.9,31.5 33.8,32.2 35.1,33.4 36.9,34.9 38.4,36.5 39.6,38.2 40.6,40.1 41.4,42.1 42.2,44 43.2,45.7 44.4,47.4 45.6,48.9 46.9,50.3 48.1,51.7 49.4,53 50.6,54.2 51.9,55.4 53.1,56.4 54.4,57.4 55.6,58.2 57,59 58.5,59.6 60.1,60.1 61.9,60.5 63.9,60.8 66.3,61 69,61.1 72,61.1 75.1,61 78.4,60.8 81.8,60.5 85.2,60.1 88.8,59.7 92.2,59.2 95.8,58.6 99.2,58 102.6,57.4 105.9,56.8 109,56.2 112,55.6 115,55 118,54.4 121,53.7 124,53.1 126.8,52.5 129.4,51.9 131.9,51.4 134.1,50.9 136.5,50.2 139.1,49.3 141.8,48.1 144.7,46.7 147.5,45.3 150.4,43.9 153.3,42.5 156.1,41.1 159,39.8 161.9,38.6 164.7,37.6 167.6,36.8 170.4,35.9 173.3,35 176.2,34.2 179,33.3 181.9,32.4 184.8,31.5 187.6,30.6 190.5,29.6 193.4,28.7 196.2,27.8 199.1,27 202,26.3 204.8,25.5 207.7,24.8 210.6,24 213.4,23.3 216.3,22.6 219.2,21.9 222,21.2 224.9,20.5 227.7,19.7 230.4,18.8 233.1,17.9 235.8,16.9 238.5,15.9 241.2,15 244,14.2 246.9,13.4 249.6,12.6 252.2,11.5 254.7,10.4 257.1,9 258.9,8 260.3,7.1 261.3,6.5 261.7,6.2 262.1,5.9 262.3,5.8 262.4,5.7 296.6,5.7 296.6,-2"/>
<polygon fill="#3d95b8" points="-3,-2 -3,26.3 31.9,26.3 32.3,26.3 32.9,26.3 33.9,26.3 35.2,26.3 36.3,26.2 37.2,26 37.8,25.6 38.3,25.2 38.7,25.1 39.2,25.2 39.6,25.6 40,26.4 40.5,27.2 41,28.2 41.6,29.2 42.1,30.4 42.7,31.5 43.3,32.5 43.9,33.5 44.5,34.3 45,35.1 45.5,35.7 46,36.2 46.5,36.5 46.6,36.8 46.5,37 46.1,37.1 45.5,37.1 45.4,37.2 45.8,37.5 46.8,37.9 48.2,38.4 49.6,38.9 50.9,39.5 52,40.2 53,41 54.1,41.7 55.4,42.3 56.8,42.9 58.2,43.4 60,43.8 62,44.2 64.2,44.5 66.8,44.7 69.2,44.9 71.8,45 74.2,45 76.8,44.9 79.2,44.7 81.8,44.4 84.2,44.1 86.8,43.7 89.2,43.3 91.8,42.8 94.2,42.2 96.8,41.6 99.2,40.9 101.8,40.2 104.2,39.4 106.8,38.5 109.2,37.5 111.8,36.6 114.2,35.6 116.8,34.6 119.1,33.6 121.4,32.6 123.5,31.6 125.5,30.6 127.6,29.6 129.7,28.7 131.9,27.8 134.1,26.9 136.5,26.1 139.1,25.2 141.8,24.3 144.7,23.5 147.5,22.6 150.4,21.8 153.3,21 156.1,20.2 159,19.4 161.9,18.6 164.7,17.9 167.6,17.1 170.4,16.4 173.3,15.8 176.2,15.1 179,14.6 181.9,14 184.8,13.4 187.6,12.8 190.5,12.3 193.4,11.7 196.2,11.1 199.1,10.6 202,10 204.8,9.4 207.7,8.8 210.6,8.3 213.4,7.7 216.3,7.1 219.2,6.5 222,6 224.9,5.4 227.7,4.9 230.6,4.4 233.5,4 236.3,3.7 239.2,3.4 242.1,3.2 244.9,3 247.8,2.9 250.6,2.8 253.3,2.7 256,2.6 258.5,2.6 260.5,2.5 261.8,2.5 262.4,2.5 296.6,2.5 296.6,-2"/>
<polygon fill="#6bc4a5" points="-3,-2 -3,24.6 31.9,24.6 32.1,24.6 32.6,24.6 33.2,24.6 34.1,24.6 34.9,24.4 35.5,24.1 36.1,23.7 36.5,23.1 37,22.5 37.6,22 38.3,21.6 39,21.1 39.7,20.9 40.4,21 41,21.3 41.6,21.9 42.2,22.5 42.8,23.2 43.5,23.9 44.3,24.6 45.2,25.2 46.3,25.6 47.6,25.9 49,25.9 50.4,26.1 51.7,26.2 53,26.4 54.1,26.6 55.3,26.8 56.5,27.1 57.6,27.5 58.8,27.8 60,28.1 61.3,28.4 62.7,28.5 64.2,28.6 65.7,28.5 67.1,28.5 68.6,28.3 70,28.1 71.5,27.8 73,27.5 74.4,27.3 75.9,27 77.3,26.7 78.8,26.3 80.3,25.9 81.7,25.5 83.2,25.1 84.6,24.7 86.1,24.2 87.6,23.7 89,23.3 90.5,22.8 91.9,22.3 93.4,21.8 94.9,21.3 96.3,20.8 97.8,20.4 99.2,20 100.6,19.6 101.8,19.2 103,18.9 104,18.6 105.3,18.2 107,17.7 108.9,17.1 111.1,16.5 113.4,15.9 115.8,15.3 118.2,14.8 120.8,14.2 123.4,13.7 126.3,13.2 129.4,12.6 132.6,12 136.5,11.4 141,10.8 146.1,10.1 151.8,9.4 157.6,8.8 163.3,8.2 169,7.6 174.7,7 180.5,6.4 186.2,5.9 191.9,5.3 197.7,4.7 203.1,4.2 208.3,3.7 213.1,3.2 217.7,2.8 221.7,2.4 225.2,2 228,1.6 230.3,1.1 232,0.8 233.2,0.5 233.8,0.4 296.6,0.4 296.6,-2"/>
<polygon fill="#94d4a4" points="-3,-2 -3,22.2 31.9,22.2 32.2,22.2 32.7,22.1 33.5,22 34.5,21.9 35.4,21.6 36.2,21.3 36.9,21 37.5,20.5 38.1,20.2 38.6,20 39.2,19.9 39.8,19.9 40.4,20 41,20.2 41.6,20.5 42.1,21 42.8,21.3 43.5,21.6 44.3,21.9 45.2,22 46.2,22 47.2,22 48.3,21.8 49.4,21.5 50.6,21.1 51.8,20.7 53,20.2 54.1,19.6 55.3,19 56.5,18.4 57.6,17.8 58.8,17.3 60,16.8 61.1,16.4 62.3,16.2 63.5,16 64.6,15.9 65.8,15.7 67,15.6 68.1,15.4 69.3,15.2 70.5,15 71.6,14.8 72.8,14.5 74,14.2 75.1,13.9 76.3,13.6 77.5,13.3 78.7,13 79.8,12.7 81,12.4 82.2,12.1 83.4,11.8 84.7,11.6 86.1,11.3 87.6,11 89,10.7 90.5,10.4 91.9,10.1 93.4,9.8 95.1,9.5 97.1,9.2 99.3,8.8 101.8,8.4 104.2,8.1 106.6,7.9 108.9,7.7 111.1,7.6 113.2,7.5 115.1,7.4 116.8,7.2 118.2,7 120.4,6.7 123.3,6.4 126.9,5.9 131.1,5.4 135.7,4.9 140.7,4.5 146.1,4.2 151.8,3.9 157.6,3.6 163.3,3.3 169,3 174.7,2.7 180.5,2.4 186.2,2.2 191.9,2 197.7,1.8 202.7,1.6 207,1.4 210.6,1.1 213.4,0.8 215.6,0.6 217,0.5 217.7,0.4 296.6,0.4 296.6,-2"/>
<polygon fill="#bce3a0" points="-3,-2 -3,20.5 31.9,20.5 32.3,20.4 32.9,20.4 33.9,20.2 35.2,20.1 36.4,19.9 37.5,19.7 38.5,19.4 39.4,19.2 40.2,18.9 41.1,18.8 42,18.7 42.9,18.7 43.8,18.6 44.8,18.5 45.9,18.3 47.1,18 48.4,17.6 49.7,17.2 51.1,16.7 52.5,16.1 54,15.5 55.4,14.9 56.9,14.3 58.4,13.7 59.8,13.2 61.3,12.8 62.7,12.4 64.2,12.1 65.7,11.8 67.1,11.6 68.6,11.3 70,11 71.5,10.7 73,10.4 74.4,10.1 75.9,9.8 77.3,9.5 78.8,9.2 80.3,8.9 81.7,8.6 83.2,8.4 84.6,8.1 86.1,7.9 87.6,7.7 89,7.5 90.5,7.3 91.9,7 93.4,6.8 95.1,6.5 97.1,6.2 99.3,5.9 101.8,5.6 104.2,5.2 106.6,4.9 108.9,4.5 111.1,4.2 113.2,3.9 115.1,3.7 116.8,3.5 118.2,3.3 120.4,3.1 123.3,2.9 126.9,2.6 131.1,2.3 135.5,2 139.9,1.8 144.4,1.7 149,1.6 153.4,1.5 157.7,1.4 161.9,1.1 165.9,0.8 168.9,0.6 170.9,0.5 171.9,0.4 296.6,0.4 296.6,-2"/>
<polygon fill="#e0f09c" points="-3,-2 -3,18.7 31.9,18.7 32.3,18.7 32.9,18.6 33.9,18.5 35.2,18.3 36.6,18.1 37.9,17.8 39.4,17.5 40.8,17 42.3,16.6 43.8,16.2 45.2,15.7 46.7,15.3 48.1,14.8 49.6,14.3 51.1,13.7 52.5,13 54,12.4 55.4,11.8 56.9,11.2 58.4,10.6 59.8,10.1 61.3,9.6 62.7,9.1 64.2,8.8 65.7,8.4 67.1,8.1 68.6,7.8 70,7.5 71.5,7.2 73,6.9 74.4,6.6 75.9,6.3 77.3,6 78.8,5.8 80.3,5.6 81.7,5.4 83.2,5.1 84.6,4.9 86.1,4.7 87.6,4.5 89,4.2 90.5,4 91.9,3.8 93.4,3.5 95.1,3.3 97.1,3 99.3,2.7 101.8,2.4 104.2,2.2 106.6,2 108.9,1.9 111.1,1.8 113.4,1.7 115.8,1.5 118.2,1.3 120.8,1 122.6,0.7 123.9,0.6 124.5,0.5 296.6,0.5 296.6,-2"/>
<polygon fill="#fbf7ae" points="-3,-2 -3,16.4 31.9,16.4 32.3,16.3 32.9,16.3 33.9,16.2 35.2,16 36.6,15.8 37.9,15.5 39.4,15.1 40.8,14.7 42.3,14.2 43.8,13.6 45.2,12.9 46.7,12.2 48.1,11.5 49.6,10.8 51.1,10 52.5,9.3 54,8.6 55.4,7.9 56.9,7.3 58.4,6.7 59.8,6.2 61.3,5.7 62.7,5.2 64.2,4.8 65.7,4.4 67.1,4 68.6,3.7 70,3.4 71.5,3.1 73,2.8 74.4,2.6 75.9,2.4 77.3,2.1 78.8,1.9 80.3,1.7 81.7,1.6 83.3,1.4 84.9,1.2 86.5,1 88.3,0.9 90,0.7 91.8,0.5 93.5,0.3 95.3,0 96.6,-0.2 97.5,-0.3 97.9,-0.3 296.6,-0.3 296.6,-2"/>
<polygon fill="#fee695" points="-3,-2 -3,13.5 31.9,13.5 32.3,13.4 32.9,13.3 33.9,13.2 35.2,13.1 36.5,12.8 37.7,12.5 38.9,12 40.1,11.4 41.3,10.8 42.4,10 43.6,9.2 44.8,8.3 45.9,7.5 47,6.7 48.1,5.9 49.1,5.2 50.1,4.5 51.1,3.9 52.2,3.2 53.2,2.6 54.2,2.1 55.1,1.7 56,1.3 56.9,1 57.7,0.8 58.4,0.5 59.1,0.2 59.7,-0.1 60.1,-0.3 60.4,-0.5 60.5,-0.6 296.6,-0.6 296.6,-2"/>
<polygon fill="#fdbd6e" points="-3,-2 -3,8.2 31.9,8.2 32.3,8.1 32.9,8 33.9,7.8 35.2,7.5 36.5,7.1 37.7,6.6 38.9,5.9 40.1,5.2 41.2,4.5 42.1,3.9 43,3.2 43.7,2.6 44.3,2.1 44.9,1.7 45.4,1.3 45.9,1 46.3,0.8 46.6,0.5 47,0.2 47.3,-0.1 47.5,-0.3 47.6,-0.5 47.7,-0.6 296.6,-0.6 296.6,-2"/>
<polygon fill="#f99554" points="-3,-2 -3,4.1 31.9,4.1 32.2,4.1 32.7,4 33.5,3.9 34.5,3.7 35.5,3.5 36.4,3.2 37.3,2.9 38.2,2.4 39,2 39.6,1.7 40.2,1.3 40.6,1 41,0.8 41.3,0.5 41.6,0.2 41.8,-0.1 41.9,-0.3 42,-0.5 42.1,-0.6 296.6,-0.6 296.6,-2"/>
<polygon fill="#808080" points="-2,-2 32.5,1.1 32.5,23.1 36.5,26.1 38.5,29.1 38.9,41.1 38.9,99.1 -2,98.7"/>
<polygon fill="#808080" points="295.2,-2 261.3,1.1 261.3,99.7 295.2,98.7"/>
<line x1="51" y1="0" x2="51" y2="96.7" stroke="#777" stroke-width="0.45" stroke-dasharray="0.6,0.4" opacity="0.5"/>
<line x1="229.1" y1="0" x2="229.1" y2="96.7" stroke="#777" stroke-width="0.45" stroke-dasharray="0.6,0.4" opacity="0.5"/>
<line x1="51" y1="25.4" x2="229.1" y2="3.9" stroke="#2e2e2e" stroke-width="0.45"/>
<line x1="51" y1="38.6" x2="229.1" y2="8.1" stroke="#2e2e2e" stroke-width="0.45"/>
<line x1="51" y1="52.6" x2="229.1" y2="19.6" stroke="#2e2e2e" stroke-width="0.45"/>
</g>
<text x="140" y="12.6" font-size="6.6" text-anchor="middle" class="g">0.0024°</text>
<text x="140" y="20.6" font-size="6.6" text-anchor="middle" class="g">0.0036°</text>
<text x="140" y="32.7" font-size="6.6" text-anchor="middle" class="g">0.0043°</text>
<rect x="261.9" y="64.5" width="28.8" height="28.9" fill="#fff" stroke="#111" stroke-width="0.9"/>
<text font-size="6.6" text-anchor="middle" class="g"><tspan x="276.3" y="73.1">Mean</tspan><tspan x="276.3" y="81.1">slope:</tspan><tspan x="276.3" y="89.5">0.0034°</tspan></text>
<rect x="0" y="0" width="293.6" height="96.7" fill="none" stroke="#000" stroke-width="1.6"/>
<line x1="-4.6" y1="0" x2="0" y2="0" stroke="#000" stroke-width="1.4"/>
<text x="-9.4" y="3.2" font-size="8.7" text-anchor="end" class="b">0.0</text>
<line x1="-4.6" y1="19.3" x2="0" y2="19.3" stroke="#000" stroke-width="1.4"/>
<text x="-9.4" y="22.5" font-size="8.7" text-anchor="end" class="b">0.2</text>
<line x1="-4.6" y1="38.7" x2="0" y2="38.7" stroke="#000" stroke-width="1.4"/>
<text x="-9.4" y="41.9" font-size="8.7" text-anchor="end" class="b">0.4</text>
<line x1="-4.6" y1="58" x2="0" y2="58" stroke="#000" stroke-width="1.4"/>
<text x="-9.4" y="61.2" font-size="8.7" text-anchor="end" class="b">0.6</text>
<line x1="-4.6" y1="77.4" x2="0" y2="77.4" stroke="#000" stroke-width="1.4"/>
<text x="-9.4" y="80.6" font-size="8.7" text-anchor="end" class="b">0.8</text>
<line x1="-4.6" y1="96.7" x2="0" y2="96.7" stroke="#000" stroke-width="1.4"/>
<text x="-9.4" y="99.9" font-size="8.7" text-anchor="end" class="b">1.0</text>
<line x1="0" y1="96.7" x2="0" y2="101.3" stroke="#000" stroke-width="1.4"/>
<text x="0" y="112.6" font-size="8.9" text-anchor="middle" class="b">90°W</text>
<line x1="65.2" y1="96.7" x2="65.2" y2="101.3" stroke="#000" stroke-width="1.4"/>
<text x="65.2" y="112.6" font-size="8.9" text-anchor="middle" class="b">70°W</text>
<line x1="130.5" y1="96.7" x2="130.5" y2="101.3" stroke="#000" stroke-width="1.4"/>
<text x="130.5" y="112.6" font-size="8.9" text-anchor="middle" class="b">50°W</text>
<line x1="195.7" y1="96.7" x2="195.7" y2="101.3" stroke="#000" stroke-width="1.4"/>
<text x="195.7" y="112.6" font-size="8.9" text-anchor="middle" class="b">30°W</text>
<line x1="261" y1="96.7" x2="261" y2="101.3" stroke="#000" stroke-width="1.4"/>
<text x="261" y="112.6" font-size="8.9" text-anchor="middle" class="b">10°W</text>
<text x="146.8" y="-7.5" font-size="8.8" text-anchor="middle" class="b">LGM</text>
</g>
<rect x="181.7" y="706.7" width="40.7" height="32.1" fill="#b91d48"/>
<rect x="222.1" y="706.7" width="40.7" height="32.1" fill="#ee6445"/>
<rect x="262.5" y="706.7" width="40.7" height="32.1" fill="#fdb567"/>
<rect x="302.9" y="706.7" width="40.7" height="32.1" fill="#fef0a7"/>
<rect x="343.3" y="706.7" width="40.7" height="32.1" fill="#e3f399"/>
<rect x="383.8" y="706.7" width="40.7" height="32.1" fill="#8fd2a4"/>
<rect x="424.2" y="706.7" width="40.7" height="32.1" fill="#3c93b8"/>
<rect x="464.6" y="706.7" width="40.7" height="32.1" fill="#5e4fa2"/>
<rect x="505" y="706.7" width="40.7" height="32.1" fill="#5e4fa2"/>
<rect x="181.7" y="706.7" width="363.7" height="32.1" fill="none" stroke="#000" stroke-width="1.4"/>
<line x1="181.7" y1="738.8" x2="181.7" y2="743.4" stroke="#000" stroke-width="1.3"/>
<text transform="translate(181.7,759.6) rotate(-45)" font-size="8.3" text-anchor="middle" dy="2.9" class="b">1024.5</text>
<line x1="222.1" y1="738.8" x2="222.1" y2="743.4" stroke="#000" stroke-width="1.3"/>
<text transform="translate(222.1,759.6) rotate(-45)" font-size="8.3" text-anchor="middle" dy="2.9" class="b">1025.0</text>
<line x1="262.5" y1="738.8" x2="262.5" y2="743.4" stroke="#000" stroke-width="1.3"/>
<text transform="translate(262.5,759.6) rotate(-45)" font-size="8.3" text-anchor="middle" dy="2.9" class="b">1025.5</text>
<line x1="302.9" y1="738.8" x2="302.9" y2="743.4" stroke="#000" stroke-width="1.3"/>
<text transform="translate(302.9,759.6) rotate(-45)" font-size="8.3" text-anchor="middle" dy="2.9" class="b">1026.0</text>
<line x1="343.3" y1="738.8" x2="343.3" y2="743.4" stroke="#000" stroke-width="1.3"/>
<text transform="translate(343.3,759.6) rotate(-45)" font-size="8.3" text-anchor="middle" dy="2.9" class="b">1026.5</text>
<line x1="383.8" y1="738.8" x2="383.8" y2="743.4" stroke="#000" stroke-width="1.3"/>
<text transform="translate(383.8,759.6) rotate(-45)" font-size="8.3" text-anchor="middle" dy="2.9" class="b">1027.0</text>
<line x1="424.2" y1="738.8" x2="424.2" y2="743.4" stroke="#000" stroke-width="1.3"/>
<text transform="translate(424.2,759.6) rotate(-45)" font-size="8.3" text-anchor="middle" dy="2.9" class="b">1027.5</text>
<line x1="464.6" y1="738.8" x2="464.6" y2="743.4" stroke="#000" stroke-width="1.3"/>
<text transform="translate(464.6,759.6) rotate(-45)" font-size="8.3" text-anchor="middle" dy="2.9" class="b">1028.0</text>
<line x1="505" y1="738.8" x2="505" y2="743.4" stroke="#000" stroke-width="1.3"/>
<text transform="translate(505,759.6) rotate(-45)" font-size="8.3" text-anchor="middle" dy="2.9" class="b">1028.5</text>
<line x1="545.4" y1="738.8" x2="545.4" y2="743.4" stroke="#000" stroke-width="1.3"/>
<text transform="translate(545.4,759.6) rotate(-45)" font-size="8.3" text-anchor="middle" dy="2.9" class="b">1029.0</text>
<text x="363.4" y="786.1" font-size="9" text-anchor="middle" class="b">Potential density (kg.m<tspan dy="-3.4" font-size="6.2">−3</tspan><tspan dy="3.4">)</tspan></text>
</svg></body></html>
